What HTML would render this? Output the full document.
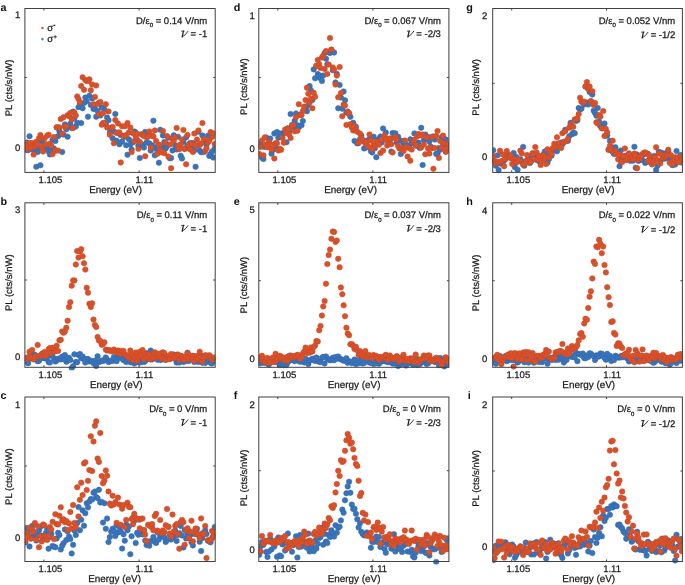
<!DOCTYPE html>
<html><head><meta charset="utf-8"><style>
html,body{margin:0;padding:0;background:#fff;width:685px;height:585px;overflow:hidden}
svg{display:block;text-rendering:geometricPrecision} text{filter:grayscale(1)}
.t{font-family:"Liberation Sans",sans-serif;font-size:9.5px;fill:#1a1a1a;stroke:#1a1a1a;stroke-width:0.25px}
.an{font-family:"Liberation Sans",sans-serif;font-size:9.5px;fill:#1a1a1a;stroke:#1a1a1a;stroke-width:0.25px}
.nu{font-family:"Liberation Serif",serif;font-style:italic;font-size:11px}
.lt{font-family:"Liberation Sans",sans-serif;font-size:10.8px;font-weight:bold;fill:#111}
</style></head><body>
<svg width="685" height="585" viewBox="0 0 685 585"><rect width="685" height="585" fill="#fff"/><clipPath id="cpa"><rect x="24.9" y="5.5" width="190.29999999999998" height="169.9"/></clipPath><g clip-path="url(#cpa)"><g fill="#3874bc" stroke="#3468a8" stroke-width="0.5"><circle cx="25.4" cy="149.8" r="2.75"/><circle cx="26.8" cy="142.5" r="2.75"/><circle cx="28.1" cy="150.2" r="2.75"/><circle cx="29.5" cy="136.2" r="2.75"/><circle cx="30.8" cy="144.8" r="2.75"/><circle cx="32.2" cy="148.9" r="2.75"/><circle cx="33.6" cy="149.9" r="2.75"/><circle cx="34.9" cy="148.6" r="2.75"/><circle cx="36.3" cy="166.8" r="2.75"/><circle cx="37.7" cy="152.1" r="2.75"/><circle cx="39.0" cy="148.3" r="2.75"/><circle cx="40.4" cy="165.3" r="2.75"/><circle cx="41.7" cy="141.2" r="2.75"/><circle cx="43.1" cy="147.3" r="2.75"/><circle cx="44.5" cy="143.9" r="2.75"/><circle cx="45.8" cy="146.4" r="2.75"/><circle cx="47.2" cy="148.7" r="2.75"/><circle cx="48.6" cy="151.3" r="2.75"/><circle cx="49.9" cy="154.4" r="2.75"/><circle cx="51.3" cy="150.4" r="2.75"/><circle cx="52.6" cy="139.7" r="2.75"/><circle cx="54.0" cy="148.5" r="2.75"/><circle cx="55.4" cy="141.0" r="2.75"/><circle cx="56.7" cy="127.5" r="2.75"/><circle cx="58.1" cy="136.2" r="2.75"/><circle cx="59.4" cy="131.2" r="2.75"/><circle cx="60.8" cy="134.0" r="2.75"/><circle cx="62.2" cy="151.9" r="2.75"/><circle cx="63.5" cy="134.6" r="2.75"/><circle cx="64.9" cy="124.4" r="2.75"/><circle cx="66.3" cy="129.2" r="2.75"/><circle cx="67.6" cy="136.7" r="2.75"/><circle cx="69.0" cy="115.9" r="2.75"/><circle cx="70.3" cy="123.7" r="2.75"/><circle cx="71.7" cy="128.0" r="2.75"/><circle cx="73.1" cy="111.6" r="2.75"/><circle cx="74.4" cy="118.0" r="2.75"/><circle cx="75.8" cy="126.6" r="2.75"/><circle cx="77.2" cy="122.8" r="2.75"/><circle cx="78.5" cy="107.2" r="2.75"/><circle cx="79.9" cy="104.1" r="2.75"/><circle cx="81.2" cy="123.1" r="2.75"/><circle cx="82.6" cy="108.2" r="2.75"/><circle cx="84.0" cy="102.9" r="2.75"/><circle cx="85.3" cy="97.6" r="2.75"/><circle cx="86.7" cy="101.3" r="2.75"/><circle cx="88.0" cy="116.7" r="2.75"/><circle cx="89.4" cy="95.8" r="2.75"/><circle cx="90.8" cy="104.9" r="2.75"/><circle cx="92.1" cy="98.5" r="2.75"/><circle cx="93.5" cy="109.0" r="2.75"/><circle cx="94.9" cy="108.5" r="2.75"/><circle cx="96.2" cy="116.8" r="2.75"/><circle cx="97.6" cy="111.0" r="2.75"/><circle cx="98.9" cy="103.0" r="2.75"/><circle cx="100.3" cy="115.5" r="2.75"/><circle cx="101.7" cy="107.3" r="2.75"/><circle cx="103.0" cy="123.2" r="2.75"/><circle cx="104.4" cy="109.6" r="2.75"/><circle cx="105.8" cy="124.2" r="2.75"/><circle cx="107.1" cy="117.5" r="2.75"/><circle cx="108.5" cy="120.2" r="2.75"/><circle cx="109.8" cy="132.4" r="2.75"/><circle cx="111.2" cy="131.1" r="2.75"/><circle cx="112.6" cy="138.3" r="2.75"/><circle cx="113.9" cy="131.4" r="2.75"/><circle cx="115.3" cy="114.0" r="2.75"/><circle cx="116.6" cy="140.7" r="2.75"/><circle cx="118.0" cy="132.6" r="2.75"/><circle cx="119.4" cy="144.3" r="2.75"/><circle cx="120.7" cy="135.1" r="2.75"/><circle cx="122.1" cy="141.6" r="2.75"/><circle cx="123.5" cy="136.0" r="2.75"/><circle cx="124.8" cy="136.8" r="2.75"/><circle cx="126.2" cy="145.3" r="2.75"/><circle cx="127.5" cy="154.7" r="2.75"/><circle cx="128.9" cy="139.3" r="2.75"/><circle cx="130.3" cy="144.4" r="2.75"/><circle cx="131.6" cy="149.4" r="2.75"/><circle cx="133.0" cy="142.3" r="2.75"/><circle cx="134.3" cy="131.4" r="2.75"/><circle cx="135.7" cy="132.5" r="2.75"/><circle cx="137.1" cy="139.9" r="2.75"/><circle cx="138.4" cy="145.4" r="2.75"/><circle cx="139.8" cy="158.0" r="2.75"/><circle cx="141.2" cy="145.0" r="2.75"/><circle cx="142.5" cy="144.6" r="2.75"/><circle cx="143.9" cy="147.5" r="2.75"/><circle cx="145.2" cy="131.9" r="2.75"/><circle cx="146.6" cy="142.6" r="2.75"/><circle cx="148.0" cy="133.9" r="2.75"/><circle cx="149.3" cy="143.3" r="2.75"/><circle cx="150.7" cy="150.6" r="2.75"/><circle cx="152.1" cy="145.3" r="2.75"/><circle cx="153.4" cy="120.7" r="2.75"/><circle cx="154.8" cy="155.3" r="2.75"/><circle cx="156.1" cy="149.1" r="2.75"/><circle cx="157.5" cy="146.6" r="2.75"/><circle cx="158.9" cy="162.7" r="2.75"/><circle cx="160.2" cy="129.8" r="2.75"/><circle cx="161.6" cy="146.7" r="2.75"/><circle cx="162.9" cy="135.4" r="2.75"/><circle cx="164.3" cy="142.1" r="2.75"/><circle cx="165.7" cy="148.4" r="2.75"/><circle cx="167.0" cy="145.9" r="2.75"/><circle cx="168.4" cy="137.7" r="2.75"/><circle cx="169.8" cy="158.3" r="2.75"/><circle cx="171.1" cy="158.0" r="2.75"/><circle cx="172.5" cy="150.5" r="2.75"/><circle cx="173.8" cy="135.3" r="2.75"/><circle cx="175.2" cy="145.4" r="2.75"/><circle cx="176.6" cy="149.4" r="2.75"/><circle cx="177.9" cy="136.8" r="2.75"/><circle cx="179.3" cy="145.2" r="2.75"/><circle cx="180.7" cy="155.7" r="2.75"/><circle cx="182.0" cy="158.5" r="2.75"/><circle cx="183.4" cy="142.0" r="2.75"/><circle cx="184.7" cy="148.8" r="2.75"/><circle cx="186.1" cy="137.4" r="2.75"/><circle cx="187.5" cy="145.6" r="2.75"/><circle cx="188.8" cy="148.3" r="2.75"/><circle cx="190.2" cy="143.0" r="2.75"/><circle cx="191.5" cy="146.7" r="2.75"/><circle cx="192.9" cy="143.0" r="2.75"/><circle cx="194.3" cy="150.3" r="2.75"/><circle cx="195.6" cy="166.8" r="2.75"/><circle cx="197.0" cy="145.4" r="2.75"/><circle cx="198.4" cy="131.7" r="2.75"/><circle cx="199.7" cy="150.4" r="2.75"/><circle cx="201.1" cy="152.2" r="2.75"/><circle cx="202.4" cy="135.4" r="2.75"/><circle cx="203.8" cy="152.1" r="2.75"/><circle cx="205.2" cy="142.3" r="2.75"/><circle cx="206.5" cy="144.5" r="2.75"/><circle cx="207.9" cy="135.8" r="2.75"/><circle cx="209.3" cy="155.9" r="2.75"/><circle cx="210.6" cy="154.0" r="2.75"/><circle cx="212.0" cy="151.6" r="2.75"/><circle cx="213.3" cy="157.6" r="2.75"/><circle cx="214.7" cy="148.5" r="2.75"/></g><g fill="#dc5027" stroke="#c44a2a" stroke-width="0.5"><circle cx="25.4" cy="149.3" r="2.75"/><circle cx="26.8" cy="144.0" r="2.75"/><circle cx="28.1" cy="148.5" r="2.75"/><circle cx="29.5" cy="142.9" r="2.75"/><circle cx="30.8" cy="147.7" r="2.75"/><circle cx="32.2" cy="143.0" r="2.75"/><circle cx="33.6" cy="154.5" r="2.75"/><circle cx="34.9" cy="146.5" r="2.75"/><circle cx="36.3" cy="141.8" r="2.75"/><circle cx="37.7" cy="144.8" r="2.75"/><circle cx="39.0" cy="138.2" r="2.75"/><circle cx="40.4" cy="135.0" r="2.75"/><circle cx="41.7" cy="147.1" r="2.75"/><circle cx="43.1" cy="151.5" r="2.75"/><circle cx="44.5" cy="138.3" r="2.75"/><circle cx="45.8" cy="144.2" r="2.75"/><circle cx="47.2" cy="135.8" r="2.75"/><circle cx="48.6" cy="134.7" r="2.75"/><circle cx="49.9" cy="143.7" r="2.75"/><circle cx="51.3" cy="145.6" r="2.75"/><circle cx="52.6" cy="154.1" r="2.75"/><circle cx="54.0" cy="137.0" r="2.75"/><circle cx="55.4" cy="150.7" r="2.75"/><circle cx="56.7" cy="127.2" r="2.75"/><circle cx="58.1" cy="150.6" r="2.75"/><circle cx="59.4" cy="127.3" r="2.75"/><circle cx="60.8" cy="119.1" r="2.75"/><circle cx="62.2" cy="133.8" r="2.75"/><circle cx="63.5" cy="117.3" r="2.75"/><circle cx="64.9" cy="127.0" r="2.75"/><circle cx="66.3" cy="126.3" r="2.75"/><circle cx="67.6" cy="115.2" r="2.75"/><circle cx="69.0" cy="115.7" r="2.75"/><circle cx="70.3" cy="112.9" r="2.75"/><circle cx="71.7" cy="119.5" r="2.75"/><circle cx="73.1" cy="128.1" r="2.75"/><circle cx="74.4" cy="112.5" r="2.75"/><circle cx="75.8" cy="115.6" r="2.75"/><circle cx="77.2" cy="96.4" r="2.75"/><circle cx="78.5" cy="99.0" r="2.75"/><circle cx="79.9" cy="102.2" r="2.75"/><circle cx="81.2" cy="86.1" r="2.75"/><circle cx="82.6" cy="77.3" r="2.75"/><circle cx="84.0" cy="89.8" r="2.75"/><circle cx="85.3" cy="80.1" r="2.75"/><circle cx="86.7" cy="80.9" r="2.75"/><circle cx="88.0" cy="80.9" r="2.75"/><circle cx="89.4" cy="79.3" r="2.75"/><circle cx="90.8" cy="90.3" r="2.75"/><circle cx="92.1" cy="84.5" r="2.75"/><circle cx="93.5" cy="104.2" r="2.75"/><circle cx="94.9" cy="96.9" r="2.75"/><circle cx="96.2" cy="85.5" r="2.75"/><circle cx="97.6" cy="104.1" r="2.75"/><circle cx="98.9" cy="114.2" r="2.75"/><circle cx="100.3" cy="101.9" r="2.75"/><circle cx="101.7" cy="124.7" r="2.75"/><circle cx="103.0" cy="113.3" r="2.75"/><circle cx="104.4" cy="122.7" r="2.75"/><circle cx="105.8" cy="104.2" r="2.75"/><circle cx="107.1" cy="127.5" r="2.75"/><circle cx="108.5" cy="111.4" r="2.75"/><circle cx="109.8" cy="134.7" r="2.75"/><circle cx="111.2" cy="127.5" r="2.75"/><circle cx="112.6" cy="127.0" r="2.75"/><circle cx="113.9" cy="143.2" r="2.75"/><circle cx="115.3" cy="120.0" r="2.75"/><circle cx="116.6" cy="133.1" r="2.75"/><circle cx="118.0" cy="123.4" r="2.75"/><circle cx="119.4" cy="132.5" r="2.75"/><circle cx="120.7" cy="162.4" r="2.75"/><circle cx="122.1" cy="126.3" r="2.75"/><circle cx="123.5" cy="136.2" r="2.75"/><circle cx="124.8" cy="126.3" r="2.75"/><circle cx="126.2" cy="135.0" r="2.75"/><circle cx="127.5" cy="123.0" r="2.75"/><circle cx="128.9" cy="132.4" r="2.75"/><circle cx="130.3" cy="127.5" r="2.75"/><circle cx="131.6" cy="152.1" r="2.75"/><circle cx="133.0" cy="133.2" r="2.75"/><circle cx="134.3" cy="141.0" r="2.75"/><circle cx="135.7" cy="136.8" r="2.75"/><circle cx="137.1" cy="133.7" r="2.75"/><circle cx="138.4" cy="148.8" r="2.75"/><circle cx="139.8" cy="141.9" r="2.75"/><circle cx="141.2" cy="134.3" r="2.75"/><circle cx="142.5" cy="134.7" r="2.75"/><circle cx="143.9" cy="136.1" r="2.75"/><circle cx="145.2" cy="156.2" r="2.75"/><circle cx="146.6" cy="137.3" r="2.75"/><circle cx="148.0" cy="136.8" r="2.75"/><circle cx="149.3" cy="131.4" r="2.75"/><circle cx="150.7" cy="147.7" r="2.75"/><circle cx="152.1" cy="135.8" r="2.75"/><circle cx="153.4" cy="136.4" r="2.75"/><circle cx="154.8" cy="130.4" r="2.75"/><circle cx="156.1" cy="141.1" r="2.75"/><circle cx="157.5" cy="153.8" r="2.75"/><circle cx="158.9" cy="144.6" r="2.75"/><circle cx="160.2" cy="149.9" r="2.75"/><circle cx="161.6" cy="152.2" r="2.75"/><circle cx="162.9" cy="131.0" r="2.75"/><circle cx="164.3" cy="153.2" r="2.75"/><circle cx="165.7" cy="142.8" r="2.75"/><circle cx="167.0" cy="136.1" r="2.75"/><circle cx="168.4" cy="156.6" r="2.75"/><circle cx="169.8" cy="144.5" r="2.75"/><circle cx="171.1" cy="168.2" r="2.75"/><circle cx="172.5" cy="139.0" r="2.75"/><circle cx="173.8" cy="141.1" r="2.75"/><circle cx="175.2" cy="137.0" r="2.75"/><circle cx="176.6" cy="128.0" r="2.75"/><circle cx="177.9" cy="146.4" r="2.75"/><circle cx="179.3" cy="149.2" r="2.75"/><circle cx="180.7" cy="144.5" r="2.75"/><circle cx="182.0" cy="139.4" r="2.75"/><circle cx="183.4" cy="129.9" r="2.75"/><circle cx="184.7" cy="149.0" r="2.75"/><circle cx="186.1" cy="164.3" r="2.75"/><circle cx="187.5" cy="134.9" r="2.75"/><circle cx="188.8" cy="144.7" r="2.75"/><circle cx="190.2" cy="149.6" r="2.75"/><circle cx="191.5" cy="143.5" r="2.75"/><circle cx="192.9" cy="152.0" r="2.75"/><circle cx="194.3" cy="133.6" r="2.75"/><circle cx="195.6" cy="145.3" r="2.75"/><circle cx="197.0" cy="139.6" r="2.75"/><circle cx="198.4" cy="130.4" r="2.75"/><circle cx="199.7" cy="145.0" r="2.75"/><circle cx="201.1" cy="143.4" r="2.75"/><circle cx="202.4" cy="123.1" r="2.75"/><circle cx="203.8" cy="139.0" r="2.75"/><circle cx="205.2" cy="151.0" r="2.75"/><circle cx="206.5" cy="148.3" r="2.75"/><circle cx="207.9" cy="142.3" r="2.75"/><circle cx="209.3" cy="140.5" r="2.75"/><circle cx="210.6" cy="132.0" r="2.75"/><circle cx="212.0" cy="137.0" r="2.75"/><circle cx="213.3" cy="133.4" r="2.75"/><circle cx="214.7" cy="144.1" r="2.75"/></g></g><rect x="24.9" y="8.5" width="190.29999999999998" height="163.9" fill="none" stroke="#404040" stroke-width="1"/><line x1="43.9" y1="172.4" x2="43.9" y2="170.4" stroke="#404040" stroke-width="1"/><line x1="43.9" y1="8.5" x2="43.9" y2="10.5" stroke="#404040" stroke-width="1"/><line x1="139.1" y1="172.4" x2="139.1" y2="170.4" stroke="#404040" stroke-width="1"/><line x1="139.1" y1="8.5" x2="139.1" y2="10.5" stroke="#404040" stroke-width="1"/><line x1="24.9" y1="77.4" x2="26.9" y2="77.4" stroke="#404040" stroke-width="1"/><line x1="215.2" y1="77.4" x2="213.2" y2="77.4" stroke="#404040" stroke-width="1"/><text x="50.5" y="183.1" text-anchor="middle" class="t">1.105</text><text x="144.3" y="183.1" text-anchor="middle" class="t">1.11</text><text x="115.6" y="193.1" text-anchor="middle" class="t" style="font-size:9.9px">Energy (eV)</text><text x="20.2" y="17.7" text-anchor="end" class="t">1</text><text x="20.2" y="151.4" text-anchor="end" class="t">0</text><text transform="translate(12.4,87.9) rotate(-90)" text-anchor="middle" class="t">PL (cts/s/nW)</text><text x="0.4" y="10.5" class="lt">a</text><text x="207.2" y="23.8" text-anchor="end" class="an">D/ε<tspan font-size="6" dy="3.4">0</tspan><tspan dy="-3.4"> = 0.14 V/nm</tspan></text><text x="207.2" y="37.3" text-anchor="end" class="an">= -1</text><g transform="translate(188.8,37.3)" fill="none" stroke="#262626" stroke-linecap="round"><path d="M-7.3 -6.2 L-4.6 -6.2" stroke-width="0.8"/><path d="M-5.4 -6.1 L-6.6 -0.5" stroke-width="1.3"/><path d="M-6.5 -0.4 Q-3.5 -1.8 -0.8 -6.0" stroke-width="0.9"/></g><circle cx="42.4" cy="28" r="1.3" fill="#c0604a"/><circle cx="42.4" cy="39.1" r="1.3" fill="#5a84b0"/><text x="47.3" y="30.9" class="an">σ<tspan font-size="6.5" dy="-3.5" style="stroke-width:0.35px">-</tspan></text><text x="47.3" y="42" class="an">σ<tspan font-size="6.5" dy="-3.5" style="stroke-width:0.2px">+</tspan></text><clipPath id="cpb"><rect x="24.9" y="199.8" width="190.29999999999998" height="170.5"/></clipPath><g clip-path="url(#cpb)"><g fill="#3874bc" stroke="#3468a8" stroke-width="0.5"><circle cx="25.4" cy="358.1" r="2.75"/><circle cx="26.8" cy="362.0" r="2.75"/><circle cx="28.1" cy="363.2" r="2.75"/><circle cx="29.5" cy="357.0" r="2.75"/><circle cx="30.8" cy="358.4" r="2.75"/><circle cx="32.2" cy="354.5" r="2.75"/><circle cx="33.6" cy="357.9" r="2.75"/><circle cx="34.9" cy="354.8" r="2.75"/><circle cx="36.3" cy="357.7" r="2.75"/><circle cx="37.7" cy="361.2" r="2.75"/><circle cx="39.0" cy="360.8" r="2.75"/><circle cx="40.4" cy="358.8" r="2.75"/><circle cx="41.7" cy="354.0" r="2.75"/><circle cx="43.1" cy="357.3" r="2.75"/><circle cx="44.5" cy="358.2" r="2.75"/><circle cx="45.8" cy="358.5" r="2.75"/><circle cx="47.2" cy="356.9" r="2.75"/><circle cx="48.6" cy="362.1" r="2.75"/><circle cx="49.9" cy="362.5" r="2.75"/><circle cx="51.3" cy="355.8" r="2.75"/><circle cx="52.6" cy="353.3" r="2.75"/><circle cx="54.0" cy="358.2" r="2.75"/><circle cx="55.4" cy="361.6" r="2.75"/><circle cx="56.7" cy="360.4" r="2.75"/><circle cx="58.1" cy="358.8" r="2.75"/><circle cx="59.4" cy="358.4" r="2.75"/><circle cx="60.8" cy="359.4" r="2.75"/><circle cx="62.2" cy="356.6" r="2.75"/><circle cx="63.5" cy="358.8" r="2.75"/><circle cx="64.9" cy="355.0" r="2.75"/><circle cx="66.3" cy="361.8" r="2.75"/><circle cx="67.6" cy="360.5" r="2.75"/><circle cx="69.0" cy="357.8" r="2.75"/><circle cx="70.3" cy="360.0" r="2.75"/><circle cx="71.7" cy="367.9" r="2.75"/><circle cx="73.1" cy="366.2" r="2.75"/><circle cx="74.4" cy="354.3" r="2.75"/><circle cx="75.8" cy="361.9" r="2.75"/><circle cx="77.2" cy="362.2" r="2.75"/><circle cx="78.5" cy="355.1" r="2.75"/><circle cx="79.9" cy="353.9" r="2.75"/><circle cx="81.2" cy="358.2" r="2.75"/><circle cx="82.6" cy="356.5" r="2.75"/><circle cx="84.0" cy="359.2" r="2.75"/><circle cx="85.3" cy="362.6" r="2.75"/><circle cx="86.7" cy="359.1" r="2.75"/><circle cx="88.0" cy="359.0" r="2.75"/><circle cx="89.4" cy="361.4" r="2.75"/><circle cx="90.8" cy="360.9" r="2.75"/><circle cx="92.1" cy="361.3" r="2.75"/><circle cx="93.5" cy="363.2" r="2.75"/><circle cx="94.9" cy="360.7" r="2.75"/><circle cx="96.2" cy="366.0" r="2.75"/><circle cx="97.6" cy="356.2" r="2.75"/><circle cx="98.9" cy="362.0" r="2.75"/><circle cx="100.3" cy="361.5" r="2.75"/><circle cx="101.7" cy="360.6" r="2.75"/><circle cx="103.0" cy="361.1" r="2.75"/><circle cx="104.4" cy="360.0" r="2.75"/><circle cx="105.8" cy="357.4" r="2.75"/><circle cx="107.1" cy="359.9" r="2.75"/><circle cx="108.5" cy="362.0" r="2.75"/><circle cx="109.8" cy="361.4" r="2.75"/><circle cx="111.2" cy="360.5" r="2.75"/><circle cx="112.6" cy="361.0" r="2.75"/><circle cx="113.9" cy="357.0" r="2.75"/><circle cx="115.3" cy="359.5" r="2.75"/><circle cx="116.6" cy="361.2" r="2.75"/><circle cx="118.0" cy="354.6" r="2.75"/><circle cx="119.4" cy="356.6" r="2.75"/><circle cx="120.7" cy="358.0" r="2.75"/><circle cx="122.1" cy="358.1" r="2.75"/><circle cx="123.5" cy="360.2" r="2.75"/><circle cx="124.8" cy="355.3" r="2.75"/><circle cx="126.2" cy="362.1" r="2.75"/><circle cx="127.5" cy="358.7" r="2.75"/><circle cx="128.9" cy="359.9" r="2.75"/><circle cx="130.3" cy="362.2" r="2.75"/><circle cx="131.6" cy="361.9" r="2.75"/><circle cx="133.0" cy="360.3" r="2.75"/><circle cx="134.3" cy="363.4" r="2.75"/><circle cx="135.7" cy="361.3" r="2.75"/><circle cx="137.1" cy="360.7" r="2.75"/><circle cx="138.4" cy="362.2" r="2.75"/><circle cx="139.8" cy="362.5" r="2.75"/><circle cx="141.2" cy="361.9" r="2.75"/><circle cx="142.5" cy="358.5" r="2.75"/><circle cx="143.9" cy="362.1" r="2.75"/><circle cx="145.2" cy="361.1" r="2.75"/><circle cx="146.6" cy="353.1" r="2.75"/><circle cx="148.0" cy="358.9" r="2.75"/><circle cx="149.3" cy="354.1" r="2.75"/><circle cx="150.7" cy="350.6" r="2.75"/><circle cx="152.1" cy="359.4" r="2.75"/><circle cx="153.4" cy="357.9" r="2.75"/><circle cx="154.8" cy="355.4" r="2.75"/><circle cx="156.1" cy="358.0" r="2.75"/><circle cx="157.5" cy="359.7" r="2.75"/><circle cx="158.9" cy="357.9" r="2.75"/><circle cx="160.2" cy="360.1" r="2.75"/><circle cx="161.6" cy="359.5" r="2.75"/><circle cx="162.9" cy="359.1" r="2.75"/><circle cx="164.3" cy="356.4" r="2.75"/><circle cx="165.7" cy="359.9" r="2.75"/><circle cx="167.0" cy="357.7" r="2.75"/><circle cx="168.4" cy="358.9" r="2.75"/><circle cx="169.8" cy="356.0" r="2.75"/><circle cx="171.1" cy="357.0" r="2.75"/><circle cx="172.5" cy="357.7" r="2.75"/><circle cx="173.8" cy="354.5" r="2.75"/><circle cx="175.2" cy="358.9" r="2.75"/><circle cx="176.6" cy="362.6" r="2.75"/><circle cx="177.9" cy="361.8" r="2.75"/><circle cx="179.3" cy="362.5" r="2.75"/><circle cx="180.7" cy="355.8" r="2.75"/><circle cx="182.0" cy="359.1" r="2.75"/><circle cx="183.4" cy="362.0" r="2.75"/><circle cx="184.7" cy="358.4" r="2.75"/><circle cx="186.1" cy="361.1" r="2.75"/><circle cx="187.5" cy="352.7" r="2.75"/><circle cx="188.8" cy="361.0" r="2.75"/><circle cx="190.2" cy="358.6" r="2.75"/><circle cx="191.5" cy="357.6" r="2.75"/><circle cx="192.9" cy="355.8" r="2.75"/><circle cx="194.3" cy="362.1" r="2.75"/><circle cx="195.6" cy="356.5" r="2.75"/><circle cx="197.0" cy="357.0" r="2.75"/><circle cx="198.4" cy="362.1" r="2.75"/><circle cx="199.7" cy="361.0" r="2.75"/><circle cx="201.1" cy="355.8" r="2.75"/><circle cx="202.4" cy="362.8" r="2.75"/><circle cx="203.8" cy="357.1" r="2.75"/><circle cx="205.2" cy="362.9" r="2.75"/><circle cx="206.5" cy="359.8" r="2.75"/><circle cx="207.9" cy="360.6" r="2.75"/><circle cx="209.3" cy="360.5" r="2.75"/><circle cx="210.6" cy="362.8" r="2.75"/><circle cx="212.0" cy="363.4" r="2.75"/><circle cx="213.3" cy="359.1" r="2.75"/><circle cx="214.7" cy="360.9" r="2.75"/></g><g fill="#dc5027" stroke="#c44a2a" stroke-width="0.5"><circle cx="25.4" cy="358.8" r="2.75"/><circle cx="26.8" cy="358.9" r="2.75"/><circle cx="28.1" cy="357.2" r="2.75"/><circle cx="29.5" cy="351.7" r="2.75"/><circle cx="30.8" cy="357.6" r="2.75"/><circle cx="32.2" cy="349.9" r="2.75"/><circle cx="33.6" cy="359.5" r="2.75"/><circle cx="34.9" cy="357.1" r="2.75"/><circle cx="36.3" cy="356.2" r="2.75"/><circle cx="37.7" cy="344.9" r="2.75"/><circle cx="39.0" cy="356.0" r="2.75"/><circle cx="40.4" cy="356.1" r="2.75"/><circle cx="41.7" cy="355.3" r="2.75"/><circle cx="43.1" cy="353.1" r="2.75"/><circle cx="44.5" cy="352.0" r="2.75"/><circle cx="45.8" cy="355.7" r="2.75"/><circle cx="47.2" cy="353.6" r="2.75"/><circle cx="48.6" cy="349.3" r="2.75"/><circle cx="49.9" cy="347.9" r="2.75"/><circle cx="51.3" cy="353.0" r="2.75"/><circle cx="52.6" cy="347.7" r="2.75"/><circle cx="54.0" cy="349.4" r="2.75"/><circle cx="55.4" cy="351.2" r="2.75"/><circle cx="56.7" cy="345.7" r="2.75"/><circle cx="58.1" cy="351.0" r="2.75"/><circle cx="59.4" cy="340.3" r="2.75"/><circle cx="60.8" cy="339.8" r="2.75"/><circle cx="62.2" cy="331.4" r="2.75"/><circle cx="63.5" cy="332.7" r="2.75"/><circle cx="64.9" cy="331.6" r="2.75"/><circle cx="66.3" cy="327.8" r="2.75"/><circle cx="67.6" cy="320.8" r="2.75"/><circle cx="69.0" cy="307.1" r="2.75"/><circle cx="70.3" cy="302.2" r="2.75"/><circle cx="71.7" cy="285.7" r="2.75"/><circle cx="73.1" cy="280.4" r="2.75"/><circle cx="74.4" cy="280.5" r="2.75"/><circle cx="75.8" cy="264.5" r="2.75"/><circle cx="77.2" cy="251.0" r="2.75"/><circle cx="78.5" cy="257.6" r="2.75"/><circle cx="79.9" cy="251.4" r="2.75"/><circle cx="81.2" cy="249.2" r="2.75"/><circle cx="82.6" cy="256.2" r="2.75"/><circle cx="84.0" cy="263.2" r="2.75"/><circle cx="85.3" cy="269.6" r="2.75"/><circle cx="86.7" cy="287.8" r="2.75"/><circle cx="88.0" cy="292.7" r="2.75"/><circle cx="89.4" cy="303.8" r="2.75"/><circle cx="90.8" cy="307.0" r="2.75"/><circle cx="92.1" cy="303.3" r="2.75"/><circle cx="93.5" cy="319.6" r="2.75"/><circle cx="94.9" cy="325.0" r="2.75"/><circle cx="96.2" cy="327.1" r="2.75"/><circle cx="97.6" cy="336.9" r="2.75"/><circle cx="98.9" cy="340.4" r="2.75"/><circle cx="100.3" cy="341.0" r="2.75"/><circle cx="101.7" cy="344.8" r="2.75"/><circle cx="103.0" cy="343.9" r="2.75"/><circle cx="104.4" cy="342.3" r="2.75"/><circle cx="105.8" cy="349.6" r="2.75"/><circle cx="107.1" cy="350.5" r="2.75"/><circle cx="108.5" cy="350.1" r="2.75"/><circle cx="109.8" cy="350.3" r="2.75"/><circle cx="111.2" cy="351.3" r="2.75"/><circle cx="112.6" cy="351.1" r="2.75"/><circle cx="113.9" cy="349.6" r="2.75"/><circle cx="115.3" cy="350.9" r="2.75"/><circle cx="116.6" cy="352.5" r="2.75"/><circle cx="118.0" cy="350.4" r="2.75"/><circle cx="119.4" cy="351.6" r="2.75"/><circle cx="120.7" cy="353.8" r="2.75"/><circle cx="122.1" cy="350.9" r="2.75"/><circle cx="123.5" cy="351.0" r="2.75"/><circle cx="124.8" cy="354.3" r="2.75"/><circle cx="126.2" cy="355.2" r="2.75"/><circle cx="127.5" cy="355.7" r="2.75"/><circle cx="128.9" cy="357.7" r="2.75"/><circle cx="130.3" cy="350.6" r="2.75"/><circle cx="131.6" cy="354.4" r="2.75"/><circle cx="133.0" cy="360.0" r="2.75"/><circle cx="134.3" cy="357.6" r="2.75"/><circle cx="135.7" cy="352.4" r="2.75"/><circle cx="137.1" cy="360.7" r="2.75"/><circle cx="138.4" cy="356.6" r="2.75"/><circle cx="139.8" cy="351.8" r="2.75"/><circle cx="141.2" cy="355.4" r="2.75"/><circle cx="142.5" cy="350.0" r="2.75"/><circle cx="143.9" cy="359.2" r="2.75"/><circle cx="145.2" cy="354.3" r="2.75"/><circle cx="146.6" cy="356.8" r="2.75"/><circle cx="148.0" cy="353.8" r="2.75"/><circle cx="149.3" cy="354.8" r="2.75"/><circle cx="150.7" cy="359.5" r="2.75"/><circle cx="152.1" cy="358.2" r="2.75"/><circle cx="153.4" cy="357.5" r="2.75"/><circle cx="154.8" cy="352.3" r="2.75"/><circle cx="156.1" cy="357.3" r="2.75"/><circle cx="157.5" cy="353.9" r="2.75"/><circle cx="158.9" cy="356.5" r="2.75"/><circle cx="160.2" cy="353.5" r="2.75"/><circle cx="161.6" cy="358.5" r="2.75"/><circle cx="162.9" cy="352.3" r="2.75"/><circle cx="164.3" cy="353.2" r="2.75"/><circle cx="165.7" cy="359.8" r="2.75"/><circle cx="167.0" cy="356.9" r="2.75"/><circle cx="168.4" cy="356.0" r="2.75"/><circle cx="169.8" cy="359.3" r="2.75"/><circle cx="171.1" cy="354.0" r="2.75"/><circle cx="172.5" cy="358.1" r="2.75"/><circle cx="173.8" cy="356.5" r="2.75"/><circle cx="175.2" cy="357.4" r="2.75"/><circle cx="176.6" cy="354.9" r="2.75"/><circle cx="177.9" cy="354.5" r="2.75"/><circle cx="179.3" cy="359.7" r="2.75"/><circle cx="180.7" cy="358.0" r="2.75"/><circle cx="182.0" cy="356.3" r="2.75"/><circle cx="183.4" cy="359.2" r="2.75"/><circle cx="184.7" cy="359.4" r="2.75"/><circle cx="186.1" cy="356.4" r="2.75"/><circle cx="187.5" cy="353.1" r="2.75"/><circle cx="188.8" cy="359.3" r="2.75"/><circle cx="190.2" cy="355.8" r="2.75"/><circle cx="191.5" cy="357.8" r="2.75"/><circle cx="192.9" cy="355.9" r="2.75"/><circle cx="194.3" cy="360.8" r="2.75"/><circle cx="195.6" cy="358.4" r="2.75"/><circle cx="197.0" cy="356.1" r="2.75"/><circle cx="198.4" cy="358.8" r="2.75"/><circle cx="199.7" cy="351.8" r="2.75"/><circle cx="201.1" cy="357.2" r="2.75"/><circle cx="202.4" cy="361.8" r="2.75"/><circle cx="203.8" cy="357.3" r="2.75"/><circle cx="205.2" cy="355.3" r="2.75"/><circle cx="206.5" cy="355.5" r="2.75"/><circle cx="207.9" cy="356.2" r="2.75"/><circle cx="209.3" cy="355.2" r="2.75"/><circle cx="210.6" cy="356.7" r="2.75"/><circle cx="212.0" cy="359.4" r="2.75"/><circle cx="213.3" cy="359.3" r="2.75"/><circle cx="214.7" cy="357.4" r="2.75"/></g></g><rect x="24.9" y="202.8" width="190.29999999999998" height="164.5" fill="none" stroke="#404040" stroke-width="1"/><line x1="43.9" y1="367.3" x2="43.9" y2="365.3" stroke="#404040" stroke-width="1"/><line x1="43.9" y1="202.8" x2="43.9" y2="204.8" stroke="#404040" stroke-width="1"/><line x1="139.1" y1="367.3" x2="139.1" y2="365.3" stroke="#404040" stroke-width="1"/><line x1="139.1" y1="202.8" x2="139.1" y2="204.8" stroke="#404040" stroke-width="1"/><line x1="24.9" y1="280" x2="26.9" y2="280" stroke="#404040" stroke-width="1"/><line x1="215.2" y1="280" x2="213.2" y2="280" stroke="#404040" stroke-width="1"/><text x="50.5" y="378.0" text-anchor="middle" class="t">1.105</text><text x="144.3" y="378.0" text-anchor="middle" class="t">1.11</text><text x="116.3" y="388.0" text-anchor="middle" class="t" style="font-size:9.9px">Energy (eV)</text><text x="20.2" y="213.4" text-anchor="end" class="t">3</text><text x="20.2" y="359.7" text-anchor="end" class="t">0</text><text transform="translate(12.4,282.7) rotate(-90)" text-anchor="middle" class="t">PL (cts/s/nW)</text><text x="0.4" y="204.8" class="lt">b</text><text x="207.2" y="218.1" text-anchor="end" class="an">D/ε<tspan font-size="6" dy="3.4">0</tspan><tspan dy="-3.4"> = 0.11 V/nm</tspan></text><text x="207.2" y="231.6" text-anchor="end" class="an">= -1</text><g transform="translate(188.8,231.6)" fill="none" stroke="#262626" stroke-linecap="round"><path d="M-7.3 -6.2 L-4.6 -6.2" stroke-width="0.8"/><path d="M-5.4 -6.1 L-6.6 -0.5" stroke-width="1.3"/><path d="M-6.5 -0.4 Q-3.5 -1.8 -0.8 -6.0" stroke-width="0.9"/></g><clipPath id="cpc"><rect x="24.9" y="394.0" width="190.29999999999998" height="170.5"/></clipPath><g clip-path="url(#cpc)"><g fill="#3874bc" stroke="#3468a8" stroke-width="0.5"><circle cx="25.4" cy="542.4" r="2.75"/><circle cx="26.8" cy="528.0" r="2.75"/><circle cx="28.1" cy="531.9" r="2.75"/><circle cx="29.5" cy="546.5" r="2.75"/><circle cx="30.8" cy="536.7" r="2.75"/><circle cx="32.2" cy="525.9" r="2.75"/><circle cx="33.6" cy="535.7" r="2.75"/><circle cx="34.9" cy="534.0" r="2.75"/><circle cx="36.3" cy="540.6" r="2.75"/><circle cx="37.7" cy="535.0" r="2.75"/><circle cx="39.0" cy="530.6" r="2.75"/><circle cx="40.4" cy="526.8" r="2.75"/><circle cx="41.7" cy="535.8" r="2.75"/><circle cx="43.1" cy="539.4" r="2.75"/><circle cx="44.5" cy="535.8" r="2.75"/><circle cx="45.8" cy="533.2" r="2.75"/><circle cx="47.2" cy="529.8" r="2.75"/><circle cx="48.6" cy="548.7" r="2.75"/><circle cx="49.9" cy="537.3" r="2.75"/><circle cx="51.3" cy="533.9" r="2.75"/><circle cx="52.6" cy="545.9" r="2.75"/><circle cx="54.0" cy="546.8" r="2.75"/><circle cx="55.4" cy="547.2" r="2.75"/><circle cx="56.7" cy="538.4" r="2.75"/><circle cx="58.1" cy="532.7" r="2.75"/><circle cx="59.4" cy="535.1" r="2.75"/><circle cx="60.8" cy="549.5" r="2.75"/><circle cx="62.2" cy="545.7" r="2.75"/><circle cx="63.5" cy="543.2" r="2.75"/><circle cx="64.9" cy="529.4" r="2.75"/><circle cx="66.3" cy="540.1" r="2.75"/><circle cx="67.6" cy="531.3" r="2.75"/><circle cx="69.0" cy="536.5" r="2.75"/><circle cx="70.3" cy="539.0" r="2.75"/><circle cx="71.7" cy="553.4" r="2.75"/><circle cx="73.1" cy="544.8" r="2.75"/><circle cx="74.4" cy="530.4" r="2.75"/><circle cx="75.8" cy="535.0" r="2.75"/><circle cx="77.2" cy="523.0" r="2.75"/><circle cx="78.5" cy="507.0" r="2.75"/><circle cx="79.9" cy="530.2" r="2.75"/><circle cx="81.2" cy="519.8" r="2.75"/><circle cx="82.6" cy="510.3" r="2.75"/><circle cx="84.0" cy="525.7" r="2.75"/><circle cx="85.3" cy="513.3" r="2.75"/><circle cx="86.7" cy="503.2" r="2.75"/><circle cx="88.0" cy="507.4" r="2.75"/><circle cx="89.4" cy="501.6" r="2.75"/><circle cx="90.8" cy="499.1" r="2.75"/><circle cx="92.1" cy="499.6" r="2.75"/><circle cx="93.5" cy="492.8" r="2.75"/><circle cx="94.9" cy="491.5" r="2.75"/><circle cx="96.2" cy="497.1" r="2.75"/><circle cx="97.6" cy="498.2" r="2.75"/><circle cx="98.9" cy="489.7" r="2.75"/><circle cx="100.3" cy="502.5" r="2.75"/><circle cx="101.7" cy="501.9" r="2.75"/><circle cx="103.0" cy="522.5" r="2.75"/><circle cx="104.4" cy="503.2" r="2.75"/><circle cx="105.8" cy="528.8" r="2.75"/><circle cx="107.1" cy="518.6" r="2.75"/><circle cx="108.5" cy="542.1" r="2.75"/><circle cx="109.8" cy="537.1" r="2.75"/><circle cx="111.2" cy="531.8" r="2.75"/><circle cx="112.6" cy="528.7" r="2.75"/><circle cx="113.9" cy="530.7" r="2.75"/><circle cx="115.3" cy="536.1" r="2.75"/><circle cx="116.6" cy="525.3" r="2.75"/><circle cx="118.0" cy="532.6" r="2.75"/><circle cx="119.4" cy="527.1" r="2.75"/><circle cx="120.7" cy="531.3" r="2.75"/><circle cx="122.1" cy="548.5" r="2.75"/><circle cx="123.5" cy="534.3" r="2.75"/><circle cx="124.8" cy="540.7" r="2.75"/><circle cx="126.2" cy="524.6" r="2.75"/><circle cx="127.5" cy="530.2" r="2.75"/><circle cx="128.9" cy="526.4" r="2.75"/><circle cx="130.3" cy="554.2" r="2.75"/><circle cx="131.6" cy="536.2" r="2.75"/><circle cx="133.0" cy="517.6" r="2.75"/><circle cx="134.3" cy="520.8" r="2.75"/><circle cx="135.7" cy="542.9" r="2.75"/><circle cx="137.1" cy="532.7" r="2.75"/><circle cx="138.4" cy="534.8" r="2.75"/><circle cx="139.8" cy="519.4" r="2.75"/><circle cx="141.2" cy="531.8" r="2.75"/><circle cx="142.5" cy="534.4" r="2.75"/><circle cx="143.9" cy="530.2" r="2.75"/><circle cx="145.2" cy="540.6" r="2.75"/><circle cx="146.6" cy="545.1" r="2.75"/><circle cx="148.0" cy="542.4" r="2.75"/><circle cx="149.3" cy="545.7" r="2.75"/><circle cx="150.7" cy="541.1" r="2.75"/><circle cx="152.1" cy="527.4" r="2.75"/><circle cx="153.4" cy="536.9" r="2.75"/><circle cx="154.8" cy="541.7" r="2.75"/><circle cx="156.1" cy="542.9" r="2.75"/><circle cx="157.5" cy="532.3" r="2.75"/><circle cx="158.9" cy="539.5" r="2.75"/><circle cx="160.2" cy="535.6" r="2.75"/><circle cx="161.6" cy="536.1" r="2.75"/><circle cx="162.9" cy="535.7" r="2.75"/><circle cx="164.3" cy="537.5" r="2.75"/><circle cx="165.7" cy="541.9" r="2.75"/><circle cx="167.0" cy="539.9" r="2.75"/><circle cx="168.4" cy="526.7" r="2.75"/><circle cx="169.8" cy="534.9" r="2.75"/><circle cx="171.1" cy="539.6" r="2.75"/><circle cx="172.5" cy="535.4" r="2.75"/><circle cx="173.8" cy="536.8" r="2.75"/><circle cx="175.2" cy="530.5" r="2.75"/><circle cx="176.6" cy="540.9" r="2.75"/><circle cx="177.9" cy="534.9" r="2.75"/><circle cx="179.3" cy="533.2" r="2.75"/><circle cx="180.7" cy="526.1" r="2.75"/><circle cx="182.0" cy="535.4" r="2.75"/><circle cx="183.4" cy="547.5" r="2.75"/><circle cx="184.7" cy="530.0" r="2.75"/><circle cx="186.1" cy="538.5" r="2.75"/><circle cx="187.5" cy="533.8" r="2.75"/><circle cx="188.8" cy="537.9" r="2.75"/><circle cx="190.2" cy="535.1" r="2.75"/><circle cx="191.5" cy="542.3" r="2.75"/><circle cx="192.9" cy="545.4" r="2.75"/><circle cx="194.3" cy="534.0" r="2.75"/><circle cx="195.6" cy="529.0" r="2.75"/><circle cx="197.0" cy="528.8" r="2.75"/><circle cx="198.4" cy="534.6" r="2.75"/><circle cx="199.7" cy="541.8" r="2.75"/><circle cx="201.1" cy="551.1" r="2.75"/><circle cx="202.4" cy="538.0" r="2.75"/><circle cx="203.8" cy="533.5" r="2.75"/><circle cx="205.2" cy="530.2" r="2.75"/><circle cx="206.5" cy="534.1" r="2.75"/><circle cx="207.9" cy="540.7" r="2.75"/><circle cx="209.3" cy="541.6" r="2.75"/><circle cx="210.6" cy="542.3" r="2.75"/><circle cx="212.0" cy="538.3" r="2.75"/><circle cx="213.3" cy="536.0" r="2.75"/><circle cx="214.7" cy="527.0" r="2.75"/></g><g fill="#dc5027" stroke="#c44a2a" stroke-width="0.5"><circle cx="25.4" cy="540.9" r="2.75"/><circle cx="26.8" cy="533.3" r="2.75"/><circle cx="28.1" cy="536.4" r="2.75"/><circle cx="29.5" cy="527.7" r="2.75"/><circle cx="30.8" cy="538.8" r="2.75"/><circle cx="32.2" cy="529.3" r="2.75"/><circle cx="33.6" cy="531.6" r="2.75"/><circle cx="34.9" cy="522.9" r="2.75"/><circle cx="36.3" cy="539.5" r="2.75"/><circle cx="37.7" cy="526.1" r="2.75"/><circle cx="39.0" cy="547.2" r="2.75"/><circle cx="40.4" cy="535.9" r="2.75"/><circle cx="41.7" cy="541.5" r="2.75"/><circle cx="43.1" cy="524.4" r="2.75"/><circle cx="44.5" cy="525.4" r="2.75"/><circle cx="45.8" cy="536.1" r="2.75"/><circle cx="47.2" cy="539.9" r="2.75"/><circle cx="48.6" cy="536.1" r="2.75"/><circle cx="49.9" cy="526.9" r="2.75"/><circle cx="51.3" cy="529.6" r="2.75"/><circle cx="52.6" cy="521.8" r="2.75"/><circle cx="54.0" cy="539.1" r="2.75"/><circle cx="55.4" cy="514.2" r="2.75"/><circle cx="56.7" cy="524.1" r="2.75"/><circle cx="58.1" cy="524.4" r="2.75"/><circle cx="59.4" cy="515.7" r="2.75"/><circle cx="60.8" cy="507.3" r="2.75"/><circle cx="62.2" cy="520.5" r="2.75"/><circle cx="63.5" cy="519.3" r="2.75"/><circle cx="64.9" cy="522.3" r="2.75"/><circle cx="66.3" cy="521.0" r="2.75"/><circle cx="67.6" cy="530.1" r="2.75"/><circle cx="69.0" cy="523.4" r="2.75"/><circle cx="70.3" cy="512.1" r="2.75"/><circle cx="71.7" cy="528.4" r="2.75"/><circle cx="73.1" cy="505.1" r="2.75"/><circle cx="74.4" cy="522.9" r="2.75"/><circle cx="75.8" cy="527.2" r="2.75"/><circle cx="77.2" cy="487.3" r="2.75"/><circle cx="78.5" cy="516.6" r="2.75"/><circle cx="79.9" cy="499.8" r="2.75"/><circle cx="81.2" cy="482.7" r="2.75"/><circle cx="82.6" cy="495.0" r="2.75"/><circle cx="84.0" cy="463.5" r="2.75"/><circle cx="85.3" cy="462.3" r="2.75"/><circle cx="86.7" cy="490.1" r="2.75"/><circle cx="88.0" cy="480.8" r="2.75"/><circle cx="89.4" cy="470.0" r="2.75"/><circle cx="90.8" cy="436.3" r="2.75"/><circle cx="92.1" cy="471.1" r="2.75"/><circle cx="93.5" cy="441.5" r="2.75"/><circle cx="94.9" cy="425.7" r="2.75"/><circle cx="96.2" cy="421.3" r="2.75"/><circle cx="97.6" cy="458.5" r="2.75"/><circle cx="98.9" cy="461.9" r="2.75"/><circle cx="100.3" cy="432.9" r="2.75"/><circle cx="101.7" cy="476.0" r="2.75"/><circle cx="103.0" cy="483.3" r="2.75"/><circle cx="104.4" cy="480.6" r="2.75"/><circle cx="105.8" cy="470.4" r="2.75"/><circle cx="107.1" cy="475.7" r="2.75"/><circle cx="108.5" cy="491.5" r="2.75"/><circle cx="109.8" cy="503.6" r="2.75"/><circle cx="111.2" cy="505.6" r="2.75"/><circle cx="112.6" cy="495.7" r="2.75"/><circle cx="113.9" cy="504.4" r="2.75"/><circle cx="115.3" cy="502.1" r="2.75"/><circle cx="116.6" cy="522.8" r="2.75"/><circle cx="118.0" cy="497.6" r="2.75"/><circle cx="119.4" cy="504.6" r="2.75"/><circle cx="120.7" cy="524.8" r="2.75"/><circle cx="122.1" cy="508.7" r="2.75"/><circle cx="123.5" cy="505.0" r="2.75"/><circle cx="124.8" cy="526.9" r="2.75"/><circle cx="126.2" cy="519.9" r="2.75"/><circle cx="127.5" cy="502.7" r="2.75"/><circle cx="128.9" cy="506.8" r="2.75"/><circle cx="130.3" cy="507.2" r="2.75"/><circle cx="131.6" cy="519.1" r="2.75"/><circle cx="133.0" cy="524.3" r="2.75"/><circle cx="134.3" cy="513.8" r="2.75"/><circle cx="135.7" cy="517.9" r="2.75"/><circle cx="137.1" cy="518.9" r="2.75"/><circle cx="138.4" cy="519.6" r="2.75"/><circle cx="139.8" cy="528.3" r="2.75"/><circle cx="141.2" cy="518.7" r="2.75"/><circle cx="142.5" cy="518.6" r="2.75"/><circle cx="143.9" cy="530.1" r="2.75"/><circle cx="145.2" cy="534.5" r="2.75"/><circle cx="146.6" cy="541.1" r="2.75"/><circle cx="148.0" cy="524.9" r="2.75"/><circle cx="149.3" cy="524.8" r="2.75"/><circle cx="150.7" cy="526.6" r="2.75"/><circle cx="152.1" cy="524.1" r="2.75"/><circle cx="153.4" cy="530.3" r="2.75"/><circle cx="154.8" cy="516.1" r="2.75"/><circle cx="156.1" cy="513.7" r="2.75"/><circle cx="157.5" cy="530.6" r="2.75"/><circle cx="158.9" cy="532.0" r="2.75"/><circle cx="160.2" cy="520.0" r="2.75"/><circle cx="161.6" cy="533.0" r="2.75"/><circle cx="162.9" cy="530.4" r="2.75"/><circle cx="164.3" cy="532.2" r="2.75"/><circle cx="165.7" cy="525.2" r="2.75"/><circle cx="167.0" cy="509.0" r="2.75"/><circle cx="168.4" cy="526.9" r="2.75"/><circle cx="169.8" cy="533.5" r="2.75"/><circle cx="171.1" cy="536.5" r="2.75"/><circle cx="172.5" cy="514.5" r="2.75"/><circle cx="173.8" cy="531.5" r="2.75"/><circle cx="175.2" cy="525.8" r="2.75"/><circle cx="176.6" cy="524.1" r="2.75"/><circle cx="177.9" cy="534.2" r="2.75"/><circle cx="179.3" cy="548.7" r="2.75"/><circle cx="180.7" cy="522.0" r="2.75"/><circle cx="182.0" cy="519.9" r="2.75"/><circle cx="183.4" cy="522.2" r="2.75"/><circle cx="184.7" cy="544.7" r="2.75"/><circle cx="186.1" cy="530.2" r="2.75"/><circle cx="187.5" cy="528.3" r="2.75"/><circle cx="188.8" cy="538.2" r="2.75"/><circle cx="190.2" cy="531.7" r="2.75"/><circle cx="191.5" cy="520.7" r="2.75"/><circle cx="192.9" cy="541.3" r="2.75"/><circle cx="194.3" cy="531.7" r="2.75"/><circle cx="195.6" cy="528.5" r="2.75"/><circle cx="197.0" cy="534.5" r="2.75"/><circle cx="198.4" cy="534.2" r="2.75"/><circle cx="199.7" cy="538.1" r="2.75"/><circle cx="201.1" cy="518.4" r="2.75"/><circle cx="202.4" cy="533.3" r="2.75"/><circle cx="203.8" cy="534.0" r="2.75"/><circle cx="205.2" cy="525.9" r="2.75"/><circle cx="206.5" cy="558.0" r="2.75"/><circle cx="207.9" cy="540.2" r="2.75"/><circle cx="209.3" cy="540.7" r="2.75"/><circle cx="210.6" cy="539.7" r="2.75"/><circle cx="212.0" cy="531.0" r="2.75"/><circle cx="213.3" cy="536.4" r="2.75"/><circle cx="214.7" cy="531.9" r="2.75"/></g></g><rect x="24.9" y="397.0" width="190.29999999999998" height="164.5" fill="none" stroke="#404040" stroke-width="1"/><line x1="43.9" y1="561.5" x2="43.9" y2="559.5" stroke="#404040" stroke-width="1"/><line x1="43.9" y1="397.0" x2="43.9" y2="399.0" stroke="#404040" stroke-width="1"/><line x1="139.1" y1="561.5" x2="139.1" y2="559.5" stroke="#404040" stroke-width="1"/><line x1="139.1" y1="397.0" x2="139.1" y2="399.0" stroke="#404040" stroke-width="1"/><line x1="24.9" y1="466" x2="26.9" y2="466" stroke="#404040" stroke-width="1"/><line x1="215.2" y1="466" x2="213.2" y2="466" stroke="#404040" stroke-width="1"/><text x="50.5" y="572.2" text-anchor="middle" class="t">1.105</text><text x="144.3" y="572.2" text-anchor="middle" class="t">1.11</text><text x="114.6" y="582.2" text-anchor="middle" class="t" style="font-size:9.9px">Energy (eV)</text><text x="20.2" y="407.6" text-anchor="end" class="t">1</text><text x="20.2" y="540.8" text-anchor="end" class="t">0</text><text transform="translate(12.4,476.6) rotate(-90)" text-anchor="middle" class="t">PL (cts/s/nW)</text><text x="0.4" y="399.0" class="lt">c</text><text x="207.2" y="412.3" text-anchor="end" class="an">D/ε<tspan font-size="6" dy="3.4">0</tspan><tspan dy="-3.4"> = 0 V/nm</tspan></text><text x="207.2" y="425.8" text-anchor="end" class="an">= -1</text><g transform="translate(188.8,425.8)" fill="none" stroke="#262626" stroke-linecap="round"><path d="M-7.3 -6.2 L-4.6 -6.2" stroke-width="0.8"/><path d="M-5.4 -6.1 L-6.6 -0.5" stroke-width="1.3"/><path d="M-6.5 -0.4 Q-3.5 -1.8 -0.8 -6.0" stroke-width="0.9"/></g><clipPath id="cpd"><rect x="258.8" y="5.5" width="190.09999999999997" height="169.9"/></clipPath><g clip-path="url(#cpd)"><g fill="#3874bc" stroke="#3468a8" stroke-width="0.5"><circle cx="259.3" cy="144.8" r="2.75"/><circle cx="260.7" cy="143.6" r="2.75"/><circle cx="262.0" cy="157.5" r="2.75"/><circle cx="263.4" cy="159.1" r="2.75"/><circle cx="264.7" cy="147.0" r="2.75"/><circle cx="266.1" cy="137.4" r="2.75"/><circle cx="267.5" cy="146.5" r="2.75"/><circle cx="268.8" cy="145.0" r="2.75"/><circle cx="270.2" cy="138.6" r="2.75"/><circle cx="271.5" cy="153.8" r="2.75"/><circle cx="272.9" cy="149.9" r="2.75"/><circle cx="274.3" cy="133.5" r="2.75"/><circle cx="275.6" cy="148.1" r="2.75"/><circle cx="277.0" cy="132.0" r="2.75"/><circle cx="278.3" cy="137.8" r="2.75"/><circle cx="279.7" cy="133.7" r="2.75"/><circle cx="281.1" cy="133.6" r="2.75"/><circle cx="282.4" cy="137.5" r="2.75"/><circle cx="283.8" cy="132.9" r="2.75"/><circle cx="285.1" cy="132.4" r="2.75"/><circle cx="286.5" cy="142.2" r="2.75"/><circle cx="287.9" cy="128.3" r="2.75"/><circle cx="289.2" cy="131.3" r="2.75"/><circle cx="290.6" cy="114.1" r="2.75"/><circle cx="292.0" cy="125.0" r="2.75"/><circle cx="293.3" cy="127.1" r="2.75"/><circle cx="294.7" cy="120.8" r="2.75"/><circle cx="296.0" cy="113.5" r="2.75"/><circle cx="297.4" cy="125.3" r="2.75"/><circle cx="298.8" cy="127.2" r="2.75"/><circle cx="300.1" cy="114.8" r="2.75"/><circle cx="301.5" cy="125.3" r="2.75"/><circle cx="302.8" cy="121.0" r="2.75"/><circle cx="304.2" cy="109.9" r="2.75"/><circle cx="305.6" cy="108.1" r="2.75"/><circle cx="306.9" cy="111.3" r="2.75"/><circle cx="308.3" cy="105.1" r="2.75"/><circle cx="309.6" cy="86.1" r="2.75"/><circle cx="311.0" cy="90.4" r="2.75"/><circle cx="312.4" cy="99.9" r="2.75"/><circle cx="313.7" cy="69.4" r="2.75"/><circle cx="315.1" cy="78.3" r="2.75"/><circle cx="316.4" cy="65.8" r="2.75"/><circle cx="317.8" cy="74.1" r="2.75"/><circle cx="319.2" cy="75.4" r="2.75"/><circle cx="320.5" cy="78.2" r="2.75"/><circle cx="321.9" cy="81.0" r="2.75"/><circle cx="323.2" cy="75.5" r="2.75"/><circle cx="324.6" cy="53.0" r="2.75"/><circle cx="326.0" cy="58.7" r="2.75"/><circle cx="327.3" cy="64.3" r="2.75"/><circle cx="328.7" cy="52.3" r="2.75"/><circle cx="330.0" cy="52.9" r="2.75"/><circle cx="331.4" cy="49.8" r="2.75"/><circle cx="332.8" cy="70.2" r="2.75"/><circle cx="334.1" cy="52.6" r="2.75"/><circle cx="335.5" cy="82.4" r="2.75"/><circle cx="336.8" cy="73.9" r="2.75"/><circle cx="338.2" cy="108.3" r="2.75"/><circle cx="339.6" cy="84.9" r="2.75"/><circle cx="340.9" cy="97.5" r="2.75"/><circle cx="342.3" cy="108.8" r="2.75"/><circle cx="343.6" cy="91.5" r="2.75"/><circle cx="345.0" cy="100.2" r="2.75"/><circle cx="346.4" cy="112.5" r="2.75"/><circle cx="347.7" cy="111.6" r="2.75"/><circle cx="349.1" cy="113.9" r="2.75"/><circle cx="350.4" cy="116.8" r="2.75"/><circle cx="351.8" cy="124.3" r="2.75"/><circle cx="353.2" cy="122.8" r="2.75"/><circle cx="354.5" cy="140.9" r="2.75"/><circle cx="355.9" cy="126.7" r="2.75"/><circle cx="357.3" cy="143.4" r="2.75"/><circle cx="358.6" cy="142.9" r="2.75"/><circle cx="360.0" cy="139.2" r="2.75"/><circle cx="361.3" cy="135.6" r="2.75"/><circle cx="362.7" cy="140.0" r="2.75"/><circle cx="364.1" cy="148.4" r="2.75"/><circle cx="365.4" cy="147.7" r="2.75"/><circle cx="366.8" cy="140.8" r="2.75"/><circle cx="368.1" cy="146.9" r="2.75"/><circle cx="369.5" cy="138.9" r="2.75"/><circle cx="370.9" cy="151.3" r="2.75"/><circle cx="372.2" cy="152.4" r="2.75"/><circle cx="373.6" cy="136.8" r="2.75"/><circle cx="374.9" cy="148.3" r="2.75"/><circle cx="376.3" cy="157.2" r="2.75"/><circle cx="377.7" cy="140.3" r="2.75"/><circle cx="379.0" cy="139.1" r="2.75"/><circle cx="380.4" cy="136.6" r="2.75"/><circle cx="381.7" cy="142.5" r="2.75"/><circle cx="383.1" cy="128.4" r="2.75"/><circle cx="384.5" cy="139.0" r="2.75"/><circle cx="385.8" cy="132.4" r="2.75"/><circle cx="387.2" cy="139.1" r="2.75"/><circle cx="388.5" cy="142.0" r="2.75"/><circle cx="389.9" cy="140.0" r="2.75"/><circle cx="391.3" cy="151.6" r="2.75"/><circle cx="392.6" cy="133.1" r="2.75"/><circle cx="394.0" cy="137.5" r="2.75"/><circle cx="395.3" cy="133.2" r="2.75"/><circle cx="396.7" cy="142.5" r="2.75"/><circle cx="398.1" cy="136.7" r="2.75"/><circle cx="399.4" cy="139.9" r="2.75"/><circle cx="400.8" cy="154.0" r="2.75"/><circle cx="402.1" cy="141.1" r="2.75"/><circle cx="403.5" cy="143.2" r="2.75"/><circle cx="404.9" cy="144.0" r="2.75"/><circle cx="406.2" cy="144.4" r="2.75"/><circle cx="407.6" cy="146.9" r="2.75"/><circle cx="408.9" cy="146.7" r="2.75"/><circle cx="410.3" cy="139.3" r="2.75"/><circle cx="411.7" cy="143.4" r="2.75"/><circle cx="413.0" cy="140.3" r="2.75"/><circle cx="414.4" cy="133.4" r="2.75"/><circle cx="415.7" cy="145.0" r="2.75"/><circle cx="417.1" cy="146.1" r="2.75"/><circle cx="418.5" cy="142.6" r="2.75"/><circle cx="419.8" cy="148.1" r="2.75"/><circle cx="421.2" cy="127.8" r="2.75"/><circle cx="422.6" cy="165.0" r="2.75"/><circle cx="423.9" cy="139.9" r="2.75"/><circle cx="425.3" cy="134.6" r="2.75"/><circle cx="426.6" cy="138.7" r="2.75"/><circle cx="428.0" cy="137.1" r="2.75"/><circle cx="429.4" cy="141.5" r="2.75"/><circle cx="430.7" cy="146.5" r="2.75"/><circle cx="432.1" cy="148.1" r="2.75"/><circle cx="433.4" cy="136.4" r="2.75"/><circle cx="434.8" cy="139.6" r="2.75"/><circle cx="436.2" cy="154.0" r="2.75"/><circle cx="437.5" cy="153.5" r="2.75"/><circle cx="438.9" cy="147.9" r="2.75"/><circle cx="440.2" cy="149.8" r="2.75"/><circle cx="441.6" cy="137.5" r="2.75"/><circle cx="443.0" cy="144.1" r="2.75"/><circle cx="444.3" cy="144.5" r="2.75"/><circle cx="445.7" cy="139.3" r="2.75"/><circle cx="447.0" cy="150.4" r="2.75"/><circle cx="448.4" cy="145.7" r="2.75"/></g><g fill="#dc5027" stroke="#c44a2a" stroke-width="0.5"><circle cx="259.3" cy="154.0" r="2.75"/><circle cx="260.7" cy="146.9" r="2.75"/><circle cx="262.0" cy="140.5" r="2.75"/><circle cx="263.4" cy="155.3" r="2.75"/><circle cx="264.7" cy="137.4" r="2.75"/><circle cx="266.1" cy="144.6" r="2.75"/><circle cx="267.5" cy="147.2" r="2.75"/><circle cx="268.8" cy="141.9" r="2.75"/><circle cx="270.2" cy="143.9" r="2.75"/><circle cx="271.5" cy="149.8" r="2.75"/><circle cx="272.9" cy="145.8" r="2.75"/><circle cx="274.3" cy="158.5" r="2.75"/><circle cx="275.6" cy="143.1" r="2.75"/><circle cx="277.0" cy="143.3" r="2.75"/><circle cx="278.3" cy="150.5" r="2.75"/><circle cx="279.7" cy="148.7" r="2.75"/><circle cx="281.1" cy="149.8" r="2.75"/><circle cx="282.4" cy="137.7" r="2.75"/><circle cx="283.8" cy="142.7" r="2.75"/><circle cx="285.1" cy="129.5" r="2.75"/><circle cx="286.5" cy="133.1" r="2.75"/><circle cx="287.9" cy="129.0" r="2.75"/><circle cx="289.2" cy="134.5" r="2.75"/><circle cx="290.6" cy="138.0" r="2.75"/><circle cx="292.0" cy="126.1" r="2.75"/><circle cx="293.3" cy="125.1" r="2.75"/><circle cx="294.7" cy="131.3" r="2.75"/><circle cx="296.0" cy="117.3" r="2.75"/><circle cx="297.4" cy="130.8" r="2.75"/><circle cx="298.8" cy="104.2" r="2.75"/><circle cx="300.1" cy="114.8" r="2.75"/><circle cx="301.5" cy="115.2" r="2.75"/><circle cx="302.8" cy="111.1" r="2.75"/><circle cx="304.2" cy="106.5" r="2.75"/><circle cx="305.6" cy="99.9" r="2.75"/><circle cx="306.9" cy="87.7" r="2.75"/><circle cx="308.3" cy="93.7" r="2.75"/><circle cx="309.6" cy="102.5" r="2.75"/><circle cx="311.0" cy="98.5" r="2.75"/><circle cx="312.4" cy="108.2" r="2.75"/><circle cx="313.7" cy="92.8" r="2.75"/><circle cx="315.1" cy="96.8" r="2.75"/><circle cx="316.4" cy="65.9" r="2.75"/><circle cx="317.8" cy="60.0" r="2.75"/><circle cx="319.2" cy="64.2" r="2.75"/><circle cx="320.5" cy="68.1" r="2.75"/><circle cx="321.9" cy="57.4" r="2.75"/><circle cx="323.2" cy="55.8" r="2.75"/><circle cx="324.6" cy="68.9" r="2.75"/><circle cx="326.0" cy="51.1" r="2.75"/><circle cx="327.3" cy="73.9" r="2.75"/><circle cx="328.7" cy="64.4" r="2.75"/><circle cx="330.0" cy="38.0" r="2.75"/><circle cx="331.4" cy="49.6" r="2.75"/><circle cx="332.8" cy="67.4" r="2.75"/><circle cx="334.1" cy="69.6" r="2.75"/><circle cx="335.5" cy="84.6" r="2.75"/><circle cx="336.8" cy="75.6" r="2.75"/><circle cx="338.2" cy="97.2" r="2.75"/><circle cx="339.6" cy="67.1" r="2.75"/><circle cx="340.9" cy="93.1" r="2.75"/><circle cx="342.3" cy="116.2" r="2.75"/><circle cx="343.6" cy="104.6" r="2.75"/><circle cx="345.0" cy="105.5" r="2.75"/><circle cx="346.4" cy="124.9" r="2.75"/><circle cx="347.7" cy="112.0" r="2.75"/><circle cx="349.1" cy="113.2" r="2.75"/><circle cx="350.4" cy="124.2" r="2.75"/><circle cx="351.8" cy="127.6" r="2.75"/><circle cx="353.2" cy="130.5" r="2.75"/><circle cx="354.5" cy="125.9" r="2.75"/><circle cx="355.9" cy="129.9" r="2.75"/><circle cx="357.3" cy="131.8" r="2.75"/><circle cx="358.6" cy="142.7" r="2.75"/><circle cx="360.0" cy="133.6" r="2.75"/><circle cx="361.3" cy="138.1" r="2.75"/><circle cx="362.7" cy="140.2" r="2.75"/><circle cx="364.1" cy="141.7" r="2.75"/><circle cx="365.4" cy="143.0" r="2.75"/><circle cx="366.8" cy="142.4" r="2.75"/><circle cx="368.1" cy="146.4" r="2.75"/><circle cx="369.5" cy="134.5" r="2.75"/><circle cx="370.9" cy="140.5" r="2.75"/><circle cx="372.2" cy="149.1" r="2.75"/><circle cx="373.6" cy="145.0" r="2.75"/><circle cx="374.9" cy="145.7" r="2.75"/><circle cx="376.3" cy="141.5" r="2.75"/><circle cx="377.7" cy="142.5" r="2.75"/><circle cx="379.0" cy="144.7" r="2.75"/><circle cx="380.4" cy="153.1" r="2.75"/><circle cx="381.7" cy="139.4" r="2.75"/><circle cx="383.1" cy="150.6" r="2.75"/><circle cx="384.5" cy="135.5" r="2.75"/><circle cx="385.8" cy="139.6" r="2.75"/><circle cx="387.2" cy="145.5" r="2.75"/><circle cx="388.5" cy="143.9" r="2.75"/><circle cx="389.9" cy="138.5" r="2.75"/><circle cx="391.3" cy="144.3" r="2.75"/><circle cx="392.6" cy="152.4" r="2.75"/><circle cx="394.0" cy="137.8" r="2.75"/><circle cx="395.3" cy="137.0" r="2.75"/><circle cx="396.7" cy="139.5" r="2.75"/><circle cx="398.1" cy="146.0" r="2.75"/><circle cx="399.4" cy="148.4" r="2.75"/><circle cx="400.8" cy="148.3" r="2.75"/><circle cx="402.1" cy="149.4" r="2.75"/><circle cx="403.5" cy="151.0" r="2.75"/><circle cx="404.9" cy="140.4" r="2.75"/><circle cx="406.2" cy="147.1" r="2.75"/><circle cx="407.6" cy="156.6" r="2.75"/><circle cx="408.9" cy="148.0" r="2.75"/><circle cx="410.3" cy="160.7" r="2.75"/><circle cx="411.7" cy="149.6" r="2.75"/><circle cx="413.0" cy="140.9" r="2.75"/><circle cx="414.4" cy="139.9" r="2.75"/><circle cx="415.7" cy="145.2" r="2.75"/><circle cx="417.1" cy="136.2" r="2.75"/><circle cx="418.5" cy="133.9" r="2.75"/><circle cx="419.8" cy="135.4" r="2.75"/><circle cx="421.2" cy="147.5" r="2.75"/><circle cx="422.6" cy="134.4" r="2.75"/><circle cx="423.9" cy="144.5" r="2.75"/><circle cx="425.3" cy="154.2" r="2.75"/><circle cx="426.6" cy="137.6" r="2.75"/><circle cx="428.0" cy="148.6" r="2.75"/><circle cx="429.4" cy="153.6" r="2.75"/><circle cx="430.7" cy="147.6" r="2.75"/><circle cx="432.1" cy="136.7" r="2.75"/><circle cx="433.4" cy="168.8" r="2.75"/><circle cx="434.8" cy="148.0" r="2.75"/><circle cx="436.2" cy="136.1" r="2.75"/><circle cx="437.5" cy="131.0" r="2.75"/><circle cx="438.9" cy="157.9" r="2.75"/><circle cx="440.2" cy="140.9" r="2.75"/><circle cx="441.6" cy="147.8" r="2.75"/><circle cx="443.0" cy="135.6" r="2.75"/><circle cx="444.3" cy="143.2" r="2.75"/><circle cx="445.7" cy="151.9" r="2.75"/><circle cx="447.0" cy="148.6" r="2.75"/><circle cx="448.4" cy="144.1" r="2.75"/></g></g><rect x="258.8" y="8.5" width="190.09999999999997" height="163.9" fill="none" stroke="#404040" stroke-width="1"/><line x1="277.8" y1="172.4" x2="277.8" y2="170.4" stroke="#404040" stroke-width="1"/><line x1="277.8" y1="8.5" x2="277.8" y2="10.5" stroke="#404040" stroke-width="1"/><line x1="372.9" y1="172.4" x2="372.9" y2="170.4" stroke="#404040" stroke-width="1"/><line x1="372.9" y1="8.5" x2="372.9" y2="10.5" stroke="#404040" stroke-width="1"/><line x1="258.8" y1="77.4" x2="260.8" y2="77.4" stroke="#404040" stroke-width="1"/><line x1="448.9" y1="77.4" x2="446.9" y2="77.4" stroke="#404040" stroke-width="1"/><text x="284.4" y="183.1" text-anchor="middle" class="t">1.105</text><text x="378.2" y="183.1" text-anchor="middle" class="t">1.11</text><text x="350.6" y="193.1" text-anchor="middle" class="t" style="font-size:9.9px">Energy (eV)</text><text x="254.8" y="18.9" text-anchor="end" class="t">1</text><text x="254.8" y="152.2" text-anchor="end" class="t">0</text><text transform="translate(247.2,86.6) rotate(-90)" text-anchor="middle" class="t">PL (cts/s/nW)</text><text x="233.8" y="10.5" class="lt">d</text><text x="440.9" y="23.8" text-anchor="end" class="an">D/ε<tspan font-size="6" dy="3.4">0</tspan><tspan dy="-3.4"> = 0.067 V/nm</tspan></text><text x="440.9" y="37.3" text-anchor="end" class="an">= -2/3</text><g transform="translate(414.5,37.3)" fill="none" stroke="#262626" stroke-linecap="round"><path d="M-7.3 -6.2 L-4.6 -6.2" stroke-width="0.8"/><path d="M-5.4 -6.1 L-6.6 -0.5" stroke-width="1.3"/><path d="M-6.5 -0.4 Q-3.5 -1.8 -0.8 -6.0" stroke-width="0.9"/></g><clipPath id="cpe"><rect x="258.8" y="199.8" width="190.09999999999997" height="170.5"/></clipPath><g clip-path="url(#cpe)"><g fill="#3874bc" stroke="#3468a8" stroke-width="0.5"><circle cx="259.3" cy="358.3" r="2.75"/><circle cx="260.7" cy="363.2" r="2.75"/><circle cx="262.0" cy="361.5" r="2.75"/><circle cx="263.4" cy="359.5" r="2.75"/><circle cx="264.7" cy="363.1" r="2.75"/><circle cx="266.1" cy="358.6" r="2.75"/><circle cx="267.5" cy="362.8" r="2.75"/><circle cx="268.8" cy="364.8" r="2.75"/><circle cx="270.2" cy="359.3" r="2.75"/><circle cx="271.5" cy="362.2" r="2.75"/><circle cx="272.9" cy="361.1" r="2.75"/><circle cx="274.3" cy="358.1" r="2.75"/><circle cx="275.6" cy="362.0" r="2.75"/><circle cx="277.0" cy="357.8" r="2.75"/><circle cx="278.3" cy="362.0" r="2.75"/><circle cx="279.7" cy="365.1" r="2.75"/><circle cx="281.1" cy="363.1" r="2.75"/><circle cx="282.4" cy="363.4" r="2.75"/><circle cx="283.8" cy="365.0" r="2.75"/><circle cx="285.1" cy="360.4" r="2.75"/><circle cx="286.5" cy="364.9" r="2.75"/><circle cx="287.9" cy="362.1" r="2.75"/><circle cx="289.2" cy="355.7" r="2.75"/><circle cx="290.6" cy="360.3" r="2.75"/><circle cx="292.0" cy="358.8" r="2.75"/><circle cx="293.3" cy="359.7" r="2.75"/><circle cx="294.7" cy="361.2" r="2.75"/><circle cx="296.0" cy="359.2" r="2.75"/><circle cx="297.4" cy="358.8" r="2.75"/><circle cx="298.8" cy="360.9" r="2.75"/><circle cx="300.1" cy="361.7" r="2.75"/><circle cx="301.5" cy="356.3" r="2.75"/><circle cx="302.8" cy="361.5" r="2.75"/><circle cx="304.2" cy="362.4" r="2.75"/><circle cx="305.6" cy="358.7" r="2.75"/><circle cx="306.9" cy="362.2" r="2.75"/><circle cx="308.3" cy="364.1" r="2.75"/><circle cx="309.6" cy="360.2" r="2.75"/><circle cx="311.0" cy="360.2" r="2.75"/><circle cx="312.4" cy="358.7" r="2.75"/><circle cx="313.7" cy="358.9" r="2.75"/><circle cx="315.1" cy="361.1" r="2.75"/><circle cx="316.4" cy="357.4" r="2.75"/><circle cx="317.8" cy="360.8" r="2.75"/><circle cx="319.2" cy="361.8" r="2.75"/><circle cx="320.5" cy="362.1" r="2.75"/><circle cx="321.9" cy="357.8" r="2.75"/><circle cx="323.2" cy="356.8" r="2.75"/><circle cx="324.6" cy="363.4" r="2.75"/><circle cx="326.0" cy="356.4" r="2.75"/><circle cx="327.3" cy="358.8" r="2.75"/><circle cx="328.7" cy="359.4" r="2.75"/><circle cx="330.0" cy="360.3" r="2.75"/><circle cx="331.4" cy="360.0" r="2.75"/><circle cx="332.8" cy="357.7" r="2.75"/><circle cx="334.1" cy="360.2" r="2.75"/><circle cx="335.5" cy="357.0" r="2.75"/><circle cx="336.8" cy="358.7" r="2.75"/><circle cx="338.2" cy="356.4" r="2.75"/><circle cx="339.6" cy="358.4" r="2.75"/><circle cx="340.9" cy="359.4" r="2.75"/><circle cx="342.3" cy="359.7" r="2.75"/><circle cx="343.6" cy="360.7" r="2.75"/><circle cx="345.0" cy="360.4" r="2.75"/><circle cx="346.4" cy="358.2" r="2.75"/><circle cx="347.7" cy="362.8" r="2.75"/><circle cx="349.1" cy="361.2" r="2.75"/><circle cx="350.4" cy="362.1" r="2.75"/><circle cx="351.8" cy="363.2" r="2.75"/><circle cx="353.2" cy="361.8" r="2.75"/><circle cx="354.5" cy="359.6" r="2.75"/><circle cx="355.9" cy="364.1" r="2.75"/><circle cx="357.3" cy="363.1" r="2.75"/><circle cx="358.6" cy="363.3" r="2.75"/><circle cx="360.0" cy="358.6" r="2.75"/><circle cx="361.3" cy="362.3" r="2.75"/><circle cx="362.7" cy="363.4" r="2.75"/><circle cx="364.1" cy="362.9" r="2.75"/><circle cx="365.4" cy="357.7" r="2.75"/><circle cx="366.8" cy="359.9" r="2.75"/><circle cx="368.1" cy="360.2" r="2.75"/><circle cx="369.5" cy="362.5" r="2.75"/><circle cx="370.9" cy="362.9" r="2.75"/><circle cx="372.2" cy="362.4" r="2.75"/><circle cx="373.6" cy="359.9" r="2.75"/><circle cx="374.9" cy="363.7" r="2.75"/><circle cx="376.3" cy="360.0" r="2.75"/><circle cx="377.7" cy="360.8" r="2.75"/><circle cx="379.0" cy="363.7" r="2.75"/><circle cx="380.4" cy="362.2" r="2.75"/><circle cx="381.7" cy="361.1" r="2.75"/><circle cx="383.1" cy="360.2" r="2.75"/><circle cx="384.5" cy="360.9" r="2.75"/><circle cx="385.8" cy="361.5" r="2.75"/><circle cx="387.2" cy="361.8" r="2.75"/><circle cx="388.5" cy="362.3" r="2.75"/><circle cx="389.9" cy="361.1" r="2.75"/><circle cx="391.3" cy="361.9" r="2.75"/><circle cx="392.6" cy="363.5" r="2.75"/><circle cx="394.0" cy="363.6" r="2.75"/><circle cx="395.3" cy="363.1" r="2.75"/><circle cx="396.7" cy="361.6" r="2.75"/><circle cx="398.1" cy="366.0" r="2.75"/><circle cx="399.4" cy="363.0" r="2.75"/><circle cx="400.8" cy="363.4" r="2.75"/><circle cx="402.1" cy="364.0" r="2.75"/><circle cx="403.5" cy="362.8" r="2.75"/><circle cx="404.9" cy="358.8" r="2.75"/><circle cx="406.2" cy="365.6" r="2.75"/><circle cx="407.6" cy="360.8" r="2.75"/><circle cx="408.9" cy="363.2" r="2.75"/><circle cx="410.3" cy="362.9" r="2.75"/><circle cx="411.7" cy="361.1" r="2.75"/><circle cx="413.0" cy="364.7" r="2.75"/><circle cx="414.4" cy="362.3" r="2.75"/><circle cx="415.7" cy="357.3" r="2.75"/><circle cx="417.1" cy="365.0" r="2.75"/><circle cx="418.5" cy="362.1" r="2.75"/><circle cx="419.8" cy="364.2" r="2.75"/><circle cx="421.2" cy="362.5" r="2.75"/><circle cx="422.6" cy="361.6" r="2.75"/><circle cx="423.9" cy="361.5" r="2.75"/><circle cx="425.3" cy="361.2" r="2.75"/><circle cx="426.6" cy="364.0" r="2.75"/><circle cx="428.0" cy="363.3" r="2.75"/><circle cx="429.4" cy="362.0" r="2.75"/><circle cx="430.7" cy="359.4" r="2.75"/><circle cx="432.1" cy="360.8" r="2.75"/><circle cx="433.4" cy="360.3" r="2.75"/><circle cx="434.8" cy="362.0" r="2.75"/><circle cx="436.2" cy="361.8" r="2.75"/><circle cx="437.5" cy="358.5" r="2.75"/><circle cx="438.9" cy="365.1" r="2.75"/><circle cx="440.2" cy="357.9" r="2.75"/><circle cx="441.6" cy="360.2" r="2.75"/><circle cx="443.0" cy="360.8" r="2.75"/><circle cx="444.3" cy="366.4" r="2.75"/><circle cx="445.7" cy="361.0" r="2.75"/><circle cx="447.0" cy="363.2" r="2.75"/><circle cx="448.4" cy="364.5" r="2.75"/></g><g fill="#dc5027" stroke="#c44a2a" stroke-width="0.5"><circle cx="259.3" cy="357.8" r="2.75"/><circle cx="260.7" cy="359.8" r="2.75"/><circle cx="262.0" cy="355.7" r="2.75"/><circle cx="263.4" cy="359.5" r="2.75"/><circle cx="264.7" cy="361.7" r="2.75"/><circle cx="266.1" cy="359.7" r="2.75"/><circle cx="267.5" cy="358.0" r="2.75"/><circle cx="268.8" cy="362.9" r="2.75"/><circle cx="270.2" cy="362.1" r="2.75"/><circle cx="271.5" cy="359.1" r="2.75"/><circle cx="272.9" cy="357.4" r="2.75"/><circle cx="274.3" cy="362.1" r="2.75"/><circle cx="275.6" cy="353.8" r="2.75"/><circle cx="277.0" cy="359.7" r="2.75"/><circle cx="278.3" cy="358.2" r="2.75"/><circle cx="279.7" cy="355.8" r="2.75"/><circle cx="281.1" cy="356.5" r="2.75"/><circle cx="282.4" cy="358.8" r="2.75"/><circle cx="283.8" cy="357.8" r="2.75"/><circle cx="285.1" cy="360.5" r="2.75"/><circle cx="286.5" cy="357.3" r="2.75"/><circle cx="287.9" cy="360.4" r="2.75"/><circle cx="289.2" cy="357.1" r="2.75"/><circle cx="290.6" cy="355.6" r="2.75"/><circle cx="292.0" cy="357.1" r="2.75"/><circle cx="293.3" cy="356.1" r="2.75"/><circle cx="294.7" cy="357.0" r="2.75"/><circle cx="296.0" cy="355.8" r="2.75"/><circle cx="297.4" cy="354.8" r="2.75"/><circle cx="298.8" cy="355.6" r="2.75"/><circle cx="300.1" cy="358.7" r="2.75"/><circle cx="301.5" cy="357.3" r="2.75"/><circle cx="302.8" cy="353.7" r="2.75"/><circle cx="304.2" cy="351.4" r="2.75"/><circle cx="305.6" cy="347.6" r="2.75"/><circle cx="306.9" cy="353.1" r="2.75"/><circle cx="308.3" cy="350.9" r="2.75"/><circle cx="309.6" cy="352.7" r="2.75"/><circle cx="311.0" cy="347.4" r="2.75"/><circle cx="312.4" cy="351.6" r="2.75"/><circle cx="313.7" cy="347.1" r="2.75"/><circle cx="315.1" cy="345.5" r="2.75"/><circle cx="316.4" cy="341.1" r="2.75"/><circle cx="317.8" cy="341.4" r="2.75"/><circle cx="319.2" cy="330.3" r="2.75"/><circle cx="320.5" cy="325.9" r="2.75"/><circle cx="321.9" cy="315.6" r="2.75"/><circle cx="323.2" cy="306.4" r="2.75"/><circle cx="324.6" cy="300.9" r="2.75"/><circle cx="326.0" cy="283.7" r="2.75"/><circle cx="327.3" cy="264.1" r="2.75"/><circle cx="328.7" cy="255.1" r="2.75"/><circle cx="330.0" cy="249.6" r="2.75"/><circle cx="331.4" cy="238.8" r="2.75"/><circle cx="332.8" cy="231.6" r="2.75"/><circle cx="334.1" cy="232.0" r="2.75"/><circle cx="335.5" cy="241.9" r="2.75"/><circle cx="336.8" cy="240.5" r="2.75"/><circle cx="338.2" cy="258.8" r="2.75"/><circle cx="339.6" cy="267.2" r="2.75"/><circle cx="340.9" cy="287.4" r="2.75"/><circle cx="342.3" cy="294.2" r="2.75"/><circle cx="343.6" cy="305.3" r="2.75"/><circle cx="345.0" cy="316.2" r="2.75"/><circle cx="346.4" cy="327.8" r="2.75"/><circle cx="347.7" cy="333.4" r="2.75"/><circle cx="349.1" cy="335.2" r="2.75"/><circle cx="350.4" cy="344.2" r="2.75"/><circle cx="351.8" cy="343.9" r="2.75"/><circle cx="353.2" cy="345.8" r="2.75"/><circle cx="354.5" cy="349.1" r="2.75"/><circle cx="355.9" cy="346.8" r="2.75"/><circle cx="357.3" cy="350.3" r="2.75"/><circle cx="358.6" cy="355.0" r="2.75"/><circle cx="360.0" cy="351.1" r="2.75"/><circle cx="361.3" cy="353.9" r="2.75"/><circle cx="362.7" cy="356.3" r="2.75"/><circle cx="364.1" cy="353.7" r="2.75"/><circle cx="365.4" cy="351.1" r="2.75"/><circle cx="366.8" cy="357.4" r="2.75"/><circle cx="368.1" cy="356.0" r="2.75"/><circle cx="369.5" cy="355.1" r="2.75"/><circle cx="370.9" cy="356.9" r="2.75"/><circle cx="372.2" cy="358.3" r="2.75"/><circle cx="373.6" cy="355.0" r="2.75"/><circle cx="374.9" cy="356.2" r="2.75"/><circle cx="376.3" cy="355.9" r="2.75"/><circle cx="377.7" cy="356.8" r="2.75"/><circle cx="379.0" cy="359.8" r="2.75"/><circle cx="380.4" cy="357.1" r="2.75"/><circle cx="381.7" cy="358.0" r="2.75"/><circle cx="383.1" cy="357.2" r="2.75"/><circle cx="384.5" cy="356.1" r="2.75"/><circle cx="385.8" cy="354.8" r="2.75"/><circle cx="387.2" cy="359.2" r="2.75"/><circle cx="388.5" cy="359.6" r="2.75"/><circle cx="389.9" cy="355.6" r="2.75"/><circle cx="391.3" cy="358.4" r="2.75"/><circle cx="392.6" cy="357.8" r="2.75"/><circle cx="394.0" cy="358.9" r="2.75"/><circle cx="395.3" cy="358.1" r="2.75"/><circle cx="396.7" cy="356.1" r="2.75"/><circle cx="398.1" cy="357.7" r="2.75"/><circle cx="399.4" cy="361.3" r="2.75"/><circle cx="400.8" cy="357.6" r="2.75"/><circle cx="402.1" cy="359.7" r="2.75"/><circle cx="403.5" cy="354.8" r="2.75"/><circle cx="404.9" cy="360.4" r="2.75"/><circle cx="406.2" cy="359.1" r="2.75"/><circle cx="407.6" cy="359.3" r="2.75"/><circle cx="408.9" cy="361.1" r="2.75"/><circle cx="410.3" cy="358.2" r="2.75"/><circle cx="411.7" cy="358.9" r="2.75"/><circle cx="413.0" cy="358.4" r="2.75"/><circle cx="414.4" cy="362.1" r="2.75"/><circle cx="415.7" cy="354.5" r="2.75"/><circle cx="417.1" cy="360.4" r="2.75"/><circle cx="418.5" cy="362.2" r="2.75"/><circle cx="419.8" cy="359.5" r="2.75"/><circle cx="421.2" cy="359.9" r="2.75"/><circle cx="422.6" cy="358.6" r="2.75"/><circle cx="423.9" cy="355.5" r="2.75"/><circle cx="425.3" cy="356.7" r="2.75"/><circle cx="426.6" cy="358.2" r="2.75"/><circle cx="428.0" cy="355.6" r="2.75"/><circle cx="429.4" cy="355.4" r="2.75"/><circle cx="430.7" cy="361.2" r="2.75"/><circle cx="432.1" cy="360.0" r="2.75"/><circle cx="433.4" cy="360.8" r="2.75"/><circle cx="434.8" cy="358.8" r="2.75"/><circle cx="436.2" cy="357.7" r="2.75"/><circle cx="437.5" cy="360.2" r="2.75"/><circle cx="438.9" cy="360.3" r="2.75"/><circle cx="440.2" cy="360.8" r="2.75"/><circle cx="441.6" cy="364.8" r="2.75"/><circle cx="443.0" cy="360.9" r="2.75"/><circle cx="444.3" cy="360.2" r="2.75"/><circle cx="445.7" cy="357.3" r="2.75"/><circle cx="447.0" cy="359.1" r="2.75"/><circle cx="448.4" cy="362.1" r="2.75"/></g></g><rect x="258.8" y="202.8" width="190.09999999999997" height="164.5" fill="none" stroke="#404040" stroke-width="1"/><line x1="277.8" y1="367.3" x2="277.8" y2="365.3" stroke="#404040" stroke-width="1"/><line x1="277.8" y1="202.8" x2="277.8" y2="204.8" stroke="#404040" stroke-width="1"/><line x1="372.9" y1="367.3" x2="372.9" y2="365.3" stroke="#404040" stroke-width="1"/><line x1="372.9" y1="202.8" x2="372.9" y2="204.8" stroke="#404040" stroke-width="1"/><line x1="258.8" y1="280.7" x2="260.8" y2="280.7" stroke="#404040" stroke-width="1"/><line x1="448.9" y1="280.7" x2="446.9" y2="280.7" stroke="#404040" stroke-width="1"/><text x="284.4" y="378.0" text-anchor="middle" class="t">1.105</text><text x="378.2" y="378.0" text-anchor="middle" class="t">1.11</text><text x="354.1" y="388.0" text-anchor="middle" class="t" style="font-size:9.9px">Energy (eV)</text><text x="254.8" y="213.2" text-anchor="end" class="t">5</text><text x="254.8" y="362.2" text-anchor="end" class="t">0</text><text transform="translate(247.2,285.1) rotate(-90)" text-anchor="middle" class="t">PL (cts/s/nW)</text><text x="233.8" y="204.8" class="lt">e</text><text x="440.9" y="218.1" text-anchor="end" class="an">D/ε<tspan font-size="6" dy="3.4">0</tspan><tspan dy="-3.4"> = 0.037 V/nm</tspan></text><text x="440.9" y="231.6" text-anchor="end" class="an">= -2/3</text><g transform="translate(414.5,231.6)" fill="none" stroke="#262626" stroke-linecap="round"><path d="M-7.3 -6.2 L-4.6 -6.2" stroke-width="0.8"/><path d="M-5.4 -6.1 L-6.6 -0.5" stroke-width="1.3"/><path d="M-6.5 -0.4 Q-3.5 -1.8 -0.8 -6.0" stroke-width="0.9"/></g><clipPath id="cpf"><rect x="258.8" y="394.0" width="190.09999999999997" height="170.5"/></clipPath><g clip-path="url(#cpf)"><g fill="#3874bc" stroke="#3468a8" stroke-width="0.5"><circle cx="259.3" cy="554.8" r="2.75"/><circle cx="260.7" cy="546.3" r="2.75"/><circle cx="262.0" cy="541.9" r="2.75"/><circle cx="263.4" cy="544.9" r="2.75"/><circle cx="264.7" cy="542.4" r="2.75"/><circle cx="266.1" cy="551.9" r="2.75"/><circle cx="267.5" cy="556.9" r="2.75"/><circle cx="268.8" cy="551.4" r="2.75"/><circle cx="270.2" cy="538.8" r="2.75"/><circle cx="271.5" cy="549.5" r="2.75"/><circle cx="272.9" cy="543.2" r="2.75"/><circle cx="274.3" cy="546.5" r="2.75"/><circle cx="275.6" cy="541.7" r="2.75"/><circle cx="277.0" cy="556.8" r="2.75"/><circle cx="278.3" cy="537.4" r="2.75"/><circle cx="279.7" cy="555.4" r="2.75"/><circle cx="281.1" cy="556.2" r="2.75"/><circle cx="282.4" cy="544.4" r="2.75"/><circle cx="283.8" cy="540.9" r="2.75"/><circle cx="285.1" cy="550.6" r="2.75"/><circle cx="286.5" cy="543.1" r="2.75"/><circle cx="287.9" cy="533.5" r="2.75"/><circle cx="289.2" cy="542.6" r="2.75"/><circle cx="290.6" cy="543.0" r="2.75"/><circle cx="292.0" cy="551.7" r="2.75"/><circle cx="293.3" cy="545.2" r="2.75"/><circle cx="294.7" cy="543.4" r="2.75"/><circle cx="296.0" cy="536.3" r="2.75"/><circle cx="297.4" cy="557.5" r="2.75"/><circle cx="298.8" cy="547.1" r="2.75"/><circle cx="300.1" cy="535.0" r="2.75"/><circle cx="301.5" cy="546.6" r="2.75"/><circle cx="302.8" cy="541.6" r="2.75"/><circle cx="304.2" cy="541.8" r="2.75"/><circle cx="305.6" cy="543.4" r="2.75"/><circle cx="306.9" cy="547.8" r="2.75"/><circle cx="308.3" cy="533.6" r="2.75"/><circle cx="309.6" cy="551.5" r="2.75"/><circle cx="311.0" cy="546.4" r="2.75"/><circle cx="312.4" cy="546.8" r="2.75"/><circle cx="313.7" cy="551.2" r="2.75"/><circle cx="315.1" cy="540.5" r="2.75"/><circle cx="316.4" cy="548.6" r="2.75"/><circle cx="317.8" cy="543.8" r="2.75"/><circle cx="319.2" cy="538.1" r="2.75"/><circle cx="320.5" cy="537.0" r="2.75"/><circle cx="321.9" cy="527.8" r="2.75"/><circle cx="323.2" cy="544.7" r="2.75"/><circle cx="324.6" cy="533.9" r="2.75"/><circle cx="326.0" cy="541.6" r="2.75"/><circle cx="327.3" cy="543.1" r="2.75"/><circle cx="328.7" cy="534.7" r="2.75"/><circle cx="330.0" cy="537.1" r="2.75"/><circle cx="331.4" cy="530.3" r="2.75"/><circle cx="332.8" cy="533.2" r="2.75"/><circle cx="334.1" cy="536.6" r="2.75"/><circle cx="335.5" cy="525.2" r="2.75"/><circle cx="336.8" cy="532.7" r="2.75"/><circle cx="338.2" cy="527.7" r="2.75"/><circle cx="339.6" cy="526.7" r="2.75"/><circle cx="340.9" cy="520.4" r="2.75"/><circle cx="342.3" cy="509.6" r="2.75"/><circle cx="343.6" cy="512.8" r="2.75"/><circle cx="345.0" cy="500.3" r="2.75"/><circle cx="346.4" cy="493.2" r="2.75"/><circle cx="347.7" cy="486.4" r="2.75"/><circle cx="349.1" cy="481.8" r="2.75"/><circle cx="350.4" cy="492.8" r="2.75"/><circle cx="351.8" cy="504.6" r="2.75"/><circle cx="353.2" cy="509.0" r="2.75"/><circle cx="354.5" cy="508.8" r="2.75"/><circle cx="355.9" cy="513.7" r="2.75"/><circle cx="357.3" cy="519.2" r="2.75"/><circle cx="358.6" cy="527.4" r="2.75"/><circle cx="360.0" cy="523.3" r="2.75"/><circle cx="361.3" cy="531.8" r="2.75"/><circle cx="362.7" cy="534.0" r="2.75"/><circle cx="364.1" cy="535.4" r="2.75"/><circle cx="365.4" cy="535.0" r="2.75"/><circle cx="366.8" cy="532.4" r="2.75"/><circle cx="368.1" cy="533.9" r="2.75"/><circle cx="369.5" cy="535.2" r="2.75"/><circle cx="370.9" cy="547.7" r="2.75"/><circle cx="372.2" cy="541.7" r="2.75"/><circle cx="373.6" cy="542.0" r="2.75"/><circle cx="374.9" cy="538.5" r="2.75"/><circle cx="376.3" cy="536.6" r="2.75"/><circle cx="377.7" cy="542.0" r="2.75"/><circle cx="379.0" cy="537.1" r="2.75"/><circle cx="380.4" cy="547.0" r="2.75"/><circle cx="381.7" cy="543.4" r="2.75"/><circle cx="383.1" cy="542.1" r="2.75"/><circle cx="384.5" cy="549.0" r="2.75"/><circle cx="385.8" cy="552.8" r="2.75"/><circle cx="387.2" cy="544.3" r="2.75"/><circle cx="388.5" cy="543.5" r="2.75"/><circle cx="389.9" cy="542.2" r="2.75"/><circle cx="391.3" cy="548.7" r="2.75"/><circle cx="392.6" cy="546.1" r="2.75"/><circle cx="394.0" cy="534.2" r="2.75"/><circle cx="395.3" cy="551.6" r="2.75"/><circle cx="396.7" cy="544.2" r="2.75"/><circle cx="398.1" cy="548.6" r="2.75"/><circle cx="399.4" cy="548.7" r="2.75"/><circle cx="400.8" cy="547.8" r="2.75"/><circle cx="402.1" cy="552.0" r="2.75"/><circle cx="403.5" cy="545.8" r="2.75"/><circle cx="404.9" cy="539.3" r="2.75"/><circle cx="406.2" cy="543.7" r="2.75"/><circle cx="407.6" cy="551.5" r="2.75"/><circle cx="408.9" cy="542.0" r="2.75"/><circle cx="410.3" cy="551.9" r="2.75"/><circle cx="411.7" cy="549.7" r="2.75"/><circle cx="413.0" cy="556.4" r="2.75"/><circle cx="414.4" cy="557.4" r="2.75"/><circle cx="415.7" cy="552.8" r="2.75"/><circle cx="417.1" cy="541.6" r="2.75"/><circle cx="418.5" cy="546.0" r="2.75"/><circle cx="419.8" cy="544.9" r="2.75"/><circle cx="421.2" cy="551.1" r="2.75"/><circle cx="422.6" cy="547.8" r="2.75"/><circle cx="423.9" cy="546.2" r="2.75"/><circle cx="425.3" cy="552.6" r="2.75"/><circle cx="426.6" cy="553.1" r="2.75"/><circle cx="428.0" cy="543.0" r="2.75"/><circle cx="429.4" cy="555.6" r="2.75"/><circle cx="430.7" cy="546.8" r="2.75"/><circle cx="432.1" cy="540.2" r="2.75"/><circle cx="433.4" cy="549.1" r="2.75"/><circle cx="434.8" cy="549.3" r="2.75"/><circle cx="436.2" cy="561.9" r="2.75"/><circle cx="437.5" cy="547.7" r="2.75"/><circle cx="438.9" cy="536.6" r="2.75"/><circle cx="440.2" cy="546.1" r="2.75"/><circle cx="441.6" cy="552.0" r="2.75"/><circle cx="443.0" cy="547.4" r="2.75"/><circle cx="444.3" cy="547.1" r="2.75"/><circle cx="445.7" cy="548.8" r="2.75"/><circle cx="447.0" cy="540.2" r="2.75"/><circle cx="448.4" cy="538.3" r="2.75"/></g><g fill="#dc5027" stroke="#c44a2a" stroke-width="0.5"><circle cx="259.3" cy="551.0" r="2.75"/><circle cx="260.7" cy="551.5" r="2.75"/><circle cx="262.0" cy="536.1" r="2.75"/><circle cx="263.4" cy="543.8" r="2.75"/><circle cx="264.7" cy="540.7" r="2.75"/><circle cx="266.1" cy="541.3" r="2.75"/><circle cx="267.5" cy="541.0" r="2.75"/><circle cx="268.8" cy="541.6" r="2.75"/><circle cx="270.2" cy="534.9" r="2.75"/><circle cx="271.5" cy="542.0" r="2.75"/><circle cx="272.9" cy="542.4" r="2.75"/><circle cx="274.3" cy="543.4" r="2.75"/><circle cx="275.6" cy="540.4" r="2.75"/><circle cx="277.0" cy="542.7" r="2.75"/><circle cx="278.3" cy="541.6" r="2.75"/><circle cx="279.7" cy="541.9" r="2.75"/><circle cx="281.1" cy="538.1" r="2.75"/><circle cx="282.4" cy="539.6" r="2.75"/><circle cx="283.8" cy="539.0" r="2.75"/><circle cx="285.1" cy="536.0" r="2.75"/><circle cx="286.5" cy="548.7" r="2.75"/><circle cx="287.9" cy="542.1" r="2.75"/><circle cx="289.2" cy="547.3" r="2.75"/><circle cx="290.6" cy="543.2" r="2.75"/><circle cx="292.0" cy="544.8" r="2.75"/><circle cx="293.3" cy="542.9" r="2.75"/><circle cx="294.7" cy="541.0" r="2.75"/><circle cx="296.0" cy="543.3" r="2.75"/><circle cx="297.4" cy="541.7" r="2.75"/><circle cx="298.8" cy="545.9" r="2.75"/><circle cx="300.1" cy="539.9" r="2.75"/><circle cx="301.5" cy="542.2" r="2.75"/><circle cx="302.8" cy="538.1" r="2.75"/><circle cx="304.2" cy="531.6" r="2.75"/><circle cx="305.6" cy="534.6" r="2.75"/><circle cx="306.9" cy="543.7" r="2.75"/><circle cx="308.3" cy="541.1" r="2.75"/><circle cx="309.6" cy="540.6" r="2.75"/><circle cx="311.0" cy="542.9" r="2.75"/><circle cx="312.4" cy="542.4" r="2.75"/><circle cx="313.7" cy="533.9" r="2.75"/><circle cx="315.1" cy="531.7" r="2.75"/><circle cx="316.4" cy="535.5" r="2.75"/><circle cx="317.8" cy="534.2" r="2.75"/><circle cx="319.2" cy="527.6" r="2.75"/><circle cx="320.5" cy="531.9" r="2.75"/><circle cx="321.9" cy="533.4" r="2.75"/><circle cx="323.2" cy="529.5" r="2.75"/><circle cx="324.6" cy="523.5" r="2.75"/><circle cx="326.0" cy="527.9" r="2.75"/><circle cx="327.3" cy="524.4" r="2.75"/><circle cx="328.7" cy="518.1" r="2.75"/><circle cx="330.0" cy="520.2" r="2.75"/><circle cx="331.4" cy="506.3" r="2.75"/><circle cx="332.8" cy="507.9" r="2.75"/><circle cx="334.1" cy="505.2" r="2.75"/><circle cx="335.5" cy="492.4" r="2.75"/><circle cx="336.8" cy="484.0" r="2.75"/><circle cx="338.2" cy="470.7" r="2.75"/><circle cx="339.6" cy="475.9" r="2.75"/><circle cx="340.9" cy="460.2" r="2.75"/><circle cx="342.3" cy="462.0" r="2.75"/><circle cx="343.6" cy="461.0" r="2.75"/><circle cx="345.0" cy="450.8" r="2.75"/><circle cx="346.4" cy="440.3" r="2.75"/><circle cx="347.7" cy="433.9" r="2.75"/><circle cx="349.1" cy="437.8" r="2.75"/><circle cx="350.4" cy="443.8" r="2.75"/><circle cx="351.8" cy="442.5" r="2.75"/><circle cx="353.2" cy="449.3" r="2.75"/><circle cx="354.5" cy="457.9" r="2.75"/><circle cx="355.9" cy="464.0" r="2.75"/><circle cx="357.3" cy="465.9" r="2.75"/><circle cx="358.6" cy="480.7" r="2.75"/><circle cx="360.0" cy="495.9" r="2.75"/><circle cx="361.3" cy="493.0" r="2.75"/><circle cx="362.7" cy="512.8" r="2.75"/><circle cx="364.1" cy="520.5" r="2.75"/><circle cx="365.4" cy="514.6" r="2.75"/><circle cx="366.8" cy="535.7" r="2.75"/><circle cx="368.1" cy="522.1" r="2.75"/><circle cx="369.5" cy="536.2" r="2.75"/><circle cx="370.9" cy="532.6" r="2.75"/><circle cx="372.2" cy="539.1" r="2.75"/><circle cx="373.6" cy="527.2" r="2.75"/><circle cx="374.9" cy="526.7" r="2.75"/><circle cx="376.3" cy="529.9" r="2.75"/><circle cx="377.7" cy="522.6" r="2.75"/><circle cx="379.0" cy="527.8" r="2.75"/><circle cx="380.4" cy="543.8" r="2.75"/><circle cx="381.7" cy="531.7" r="2.75"/><circle cx="383.1" cy="527.0" r="2.75"/><circle cx="384.5" cy="537.2" r="2.75"/><circle cx="385.8" cy="539.4" r="2.75"/><circle cx="387.2" cy="536.8" r="2.75"/><circle cx="388.5" cy="538.6" r="2.75"/><circle cx="389.9" cy="534.2" r="2.75"/><circle cx="391.3" cy="544.6" r="2.75"/><circle cx="392.6" cy="541.3" r="2.75"/><circle cx="394.0" cy="545.6" r="2.75"/><circle cx="395.3" cy="538.6" r="2.75"/><circle cx="396.7" cy="539.5" r="2.75"/><circle cx="398.1" cy="542.1" r="2.75"/><circle cx="399.4" cy="539.2" r="2.75"/><circle cx="400.8" cy="541.8" r="2.75"/><circle cx="402.1" cy="538.3" r="2.75"/><circle cx="403.5" cy="537.2" r="2.75"/><circle cx="404.9" cy="530.5" r="2.75"/><circle cx="406.2" cy="539.4" r="2.75"/><circle cx="407.6" cy="543.0" r="2.75"/><circle cx="408.9" cy="544.1" r="2.75"/><circle cx="410.3" cy="540.9" r="2.75"/><circle cx="411.7" cy="530.5" r="2.75"/><circle cx="413.0" cy="540.2" r="2.75"/><circle cx="414.4" cy="541.0" r="2.75"/><circle cx="415.7" cy="538.7" r="2.75"/><circle cx="417.1" cy="549.4" r="2.75"/><circle cx="418.5" cy="539.8" r="2.75"/><circle cx="419.8" cy="540.0" r="2.75"/><circle cx="421.2" cy="544.4" r="2.75"/><circle cx="422.6" cy="541.6" r="2.75"/><circle cx="423.9" cy="539.5" r="2.75"/><circle cx="425.3" cy="545.3" r="2.75"/><circle cx="426.6" cy="534.9" r="2.75"/><circle cx="428.0" cy="536.8" r="2.75"/><circle cx="429.4" cy="552.3" r="2.75"/><circle cx="430.7" cy="543.2" r="2.75"/><circle cx="432.1" cy="539.9" r="2.75"/><circle cx="433.4" cy="537.7" r="2.75"/><circle cx="434.8" cy="534.5" r="2.75"/><circle cx="436.2" cy="537.7" r="2.75"/><circle cx="437.5" cy="545.9" r="2.75"/><circle cx="438.9" cy="541.4" r="2.75"/><circle cx="440.2" cy="536.0" r="2.75"/><circle cx="441.6" cy="545.2" r="2.75"/><circle cx="443.0" cy="551.1" r="2.75"/><circle cx="444.3" cy="537.7" r="2.75"/><circle cx="445.7" cy="545.5" r="2.75"/><circle cx="447.0" cy="549.2" r="2.75"/><circle cx="448.4" cy="545.6" r="2.75"/></g></g><rect x="258.8" y="397.0" width="190.09999999999997" height="164.5" fill="none" stroke="#404040" stroke-width="1"/><line x1="277.8" y1="561.5" x2="277.8" y2="559.5" stroke="#404040" stroke-width="1"/><line x1="277.8" y1="397.0" x2="277.8" y2="399.0" stroke="#404040" stroke-width="1"/><line x1="372.9" y1="561.5" x2="372.9" y2="559.5" stroke="#404040" stroke-width="1"/><line x1="372.9" y1="397.0" x2="372.9" y2="399.0" stroke="#404040" stroke-width="1"/><line x1="258.8" y1="470.7" x2="260.8" y2="470.7" stroke="#404040" stroke-width="1"/><line x1="448.9" y1="470.7" x2="446.9" y2="470.7" stroke="#404040" stroke-width="1"/><text x="284.4" y="572.2" text-anchor="middle" class="t">1.105</text><text x="378.2" y="572.2" text-anchor="middle" class="t">1.11</text><text x="354.1" y="582.2" text-anchor="middle" class="t" style="font-size:9.9px">Energy (eV)</text><text x="254.8" y="408.2" text-anchor="end" class="t">2</text><text x="254.8" y="553.2" text-anchor="end" class="t">0</text><text transform="translate(247.2,478.0) rotate(-90)" text-anchor="middle" class="t">PL (cts/s/nW)</text><text x="233.8" y="399.0" class="lt">f</text><text x="440.9" y="412.3" text-anchor="end" class="an">D/ε<tspan font-size="6" dy="3.4">0</tspan><tspan dy="-3.4"> = 0 V/nm</tspan></text><text x="440.9" y="425.8" text-anchor="end" class="an">= -2/3</text><g transform="translate(414.5,425.8)" fill="none" stroke="#262626" stroke-linecap="round"><path d="M-7.3 -6.2 L-4.6 -6.2" stroke-width="0.8"/><path d="M-5.4 -6.1 L-6.6 -0.5" stroke-width="1.3"/><path d="M-6.5 -0.4 Q-3.5 -1.8 -0.8 -6.0" stroke-width="0.9"/></g><clipPath id="cpg"><rect x="492.7" y="5.5" width="189.7" height="169.9"/></clipPath><g clip-path="url(#cpg)"><g fill="#3874bc" stroke="#3468a8" stroke-width="0.5"><circle cx="493.2" cy="150.3" r="2.75"/><circle cx="494.6" cy="161.7" r="2.75"/><circle cx="495.9" cy="165.7" r="2.75"/><circle cx="497.3" cy="155.4" r="2.75"/><circle cx="498.6" cy="170.0" r="2.75"/><circle cx="500.0" cy="163.1" r="2.75"/><circle cx="501.3" cy="163.7" r="2.75"/><circle cx="502.7" cy="162.0" r="2.75"/><circle cx="504.1" cy="160.5" r="2.75"/><circle cx="505.4" cy="158.7" r="2.75"/><circle cx="506.8" cy="157.5" r="2.75"/><circle cx="508.1" cy="154.7" r="2.75"/><circle cx="509.5" cy="155.9" r="2.75"/><circle cx="510.8" cy="158.0" r="2.75"/><circle cx="512.2" cy="157.8" r="2.75"/><circle cx="513.6" cy="153.0" r="2.75"/><circle cx="514.9" cy="167.2" r="2.75"/><circle cx="516.3" cy="157.0" r="2.75"/><circle cx="517.6" cy="169.8" r="2.75"/><circle cx="519.0" cy="160.6" r="2.75"/><circle cx="520.4" cy="159.2" r="2.75"/><circle cx="521.7" cy="162.0" r="2.75"/><circle cx="523.1" cy="146.9" r="2.75"/><circle cx="524.4" cy="165.7" r="2.75"/><circle cx="525.8" cy="161.5" r="2.75"/><circle cx="527.1" cy="161.6" r="2.75"/><circle cx="528.5" cy="156.5" r="2.75"/><circle cx="529.9" cy="163.1" r="2.75"/><circle cx="531.2" cy="156.2" r="2.75"/><circle cx="532.6" cy="153.3" r="2.75"/><circle cx="533.9" cy="154.4" r="2.75"/><circle cx="535.3" cy="156.1" r="2.75"/><circle cx="536.6" cy="160.0" r="2.75"/><circle cx="538.0" cy="156.3" r="2.75"/><circle cx="539.4" cy="161.6" r="2.75"/><circle cx="540.7" cy="160.9" r="2.75"/><circle cx="542.1" cy="160.0" r="2.75"/><circle cx="543.4" cy="154.4" r="2.75"/><circle cx="544.8" cy="151.4" r="2.75"/><circle cx="546.1" cy="155.8" r="2.75"/><circle cx="547.5" cy="162.6" r="2.75"/><circle cx="548.9" cy="159.1" r="2.75"/><circle cx="550.2" cy="154.1" r="2.75"/><circle cx="551.6" cy="155.7" r="2.75"/><circle cx="552.9" cy="149.5" r="2.75"/><circle cx="554.3" cy="150.4" r="2.75"/><circle cx="555.6" cy="150.0" r="2.75"/><circle cx="557.0" cy="151.2" r="2.75"/><circle cx="558.4" cy="144.1" r="2.75"/><circle cx="559.7" cy="143.7" r="2.75"/><circle cx="561.1" cy="142.5" r="2.75"/><circle cx="562.4" cy="144.2" r="2.75"/><circle cx="563.8" cy="142.0" r="2.75"/><circle cx="565.2" cy="129.8" r="2.75"/><circle cx="566.5" cy="140.9" r="2.75"/><circle cx="567.9" cy="140.7" r="2.75"/><circle cx="569.2" cy="136.3" r="2.75"/><circle cx="570.6" cy="122.8" r="2.75"/><circle cx="571.9" cy="134.3" r="2.75"/><circle cx="573.3" cy="132.7" r="2.75"/><circle cx="574.7" cy="133.3" r="2.75"/><circle cx="576.0" cy="121.1" r="2.75"/><circle cx="577.4" cy="120.2" r="2.75"/><circle cx="578.7" cy="108.1" r="2.75"/><circle cx="580.1" cy="109.3" r="2.75"/><circle cx="581.4" cy="108.7" r="2.75"/><circle cx="582.8" cy="101.7" r="2.75"/><circle cx="584.2" cy="104.5" r="2.75"/><circle cx="585.5" cy="86.5" r="2.75"/><circle cx="586.9" cy="102.6" r="2.75"/><circle cx="588.2" cy="104.6" r="2.75"/><circle cx="589.6" cy="92.1" r="2.75"/><circle cx="590.9" cy="101.2" r="2.75"/><circle cx="592.3" cy="94.6" r="2.75"/><circle cx="593.7" cy="110.7" r="2.75"/><circle cx="595.0" cy="112.9" r="2.75"/><circle cx="596.4" cy="115.8" r="2.75"/><circle cx="597.7" cy="107.9" r="2.75"/><circle cx="599.1" cy="121.4" r="2.75"/><circle cx="600.4" cy="126.2" r="2.75"/><circle cx="601.8" cy="126.6" r="2.75"/><circle cx="603.2" cy="127.2" r="2.75"/><circle cx="604.5" cy="123.5" r="2.75"/><circle cx="605.9" cy="135.6" r="2.75"/><circle cx="607.2" cy="135.5" r="2.75"/><circle cx="608.6" cy="149.4" r="2.75"/><circle cx="609.9" cy="140.8" r="2.75"/><circle cx="611.3" cy="146.8" r="2.75"/><circle cx="612.7" cy="151.9" r="2.75"/><circle cx="614.0" cy="153.9" r="2.75"/><circle cx="615.4" cy="147.3" r="2.75"/><circle cx="616.7" cy="151.9" r="2.75"/><circle cx="618.1" cy="153.0" r="2.75"/><circle cx="619.5" cy="166.2" r="2.75"/><circle cx="620.8" cy="150.5" r="2.75"/><circle cx="622.2" cy="158.6" r="2.75"/><circle cx="623.5" cy="159.3" r="2.75"/><circle cx="624.9" cy="155.8" r="2.75"/><circle cx="626.2" cy="155.9" r="2.75"/><circle cx="627.6" cy="158.5" r="2.75"/><circle cx="629.0" cy="153.4" r="2.75"/><circle cx="630.3" cy="160.8" r="2.75"/><circle cx="631.7" cy="158.0" r="2.75"/><circle cx="633.0" cy="160.7" r="2.75"/><circle cx="634.4" cy="146.8" r="2.75"/><circle cx="635.7" cy="167.7" r="2.75"/><circle cx="637.1" cy="154.6" r="2.75"/><circle cx="638.5" cy="160.9" r="2.75"/><circle cx="639.8" cy="158.7" r="2.75"/><circle cx="641.2" cy="155.8" r="2.75"/><circle cx="642.5" cy="160.2" r="2.75"/><circle cx="643.9" cy="154.6" r="2.75"/><circle cx="645.2" cy="162.9" r="2.75"/><circle cx="646.6" cy="161.7" r="2.75"/><circle cx="648.0" cy="153.8" r="2.75"/><circle cx="649.3" cy="159.8" r="2.75"/><circle cx="650.7" cy="162.5" r="2.75"/><circle cx="652.0" cy="158.9" r="2.75"/><circle cx="653.4" cy="156.5" r="2.75"/><circle cx="654.7" cy="156.1" r="2.75"/><circle cx="656.1" cy="169.9" r="2.75"/><circle cx="657.5" cy="165.7" r="2.75"/><circle cx="658.8" cy="151.8" r="2.75"/><circle cx="660.2" cy="161.4" r="2.75"/><circle cx="661.5" cy="152.7" r="2.75"/><circle cx="662.9" cy="158.5" r="2.75"/><circle cx="664.3" cy="158.7" r="2.75"/><circle cx="665.6" cy="153.3" r="2.75"/><circle cx="667.0" cy="158.4" r="2.75"/><circle cx="668.3" cy="151.2" r="2.75"/><circle cx="669.7" cy="158.2" r="2.75"/><circle cx="671.0" cy="160.5" r="2.75"/><circle cx="672.4" cy="165.2" r="2.75"/><circle cx="673.8" cy="164.3" r="2.75"/><circle cx="675.1" cy="164.6" r="2.75"/><circle cx="676.5" cy="151.1" r="2.75"/><circle cx="677.8" cy="157.7" r="2.75"/><circle cx="679.2" cy="162.0" r="2.75"/><circle cx="680.5" cy="155.1" r="2.75"/><circle cx="681.9" cy="162.6" r="2.75"/></g><g fill="#dc5027" stroke="#c44a2a" stroke-width="0.5"><circle cx="493.2" cy="156.0" r="2.75"/><circle cx="494.6" cy="161.0" r="2.75"/><circle cx="495.9" cy="163.3" r="2.75"/><circle cx="497.3" cy="162.0" r="2.75"/><circle cx="498.6" cy="162.2" r="2.75"/><circle cx="500.0" cy="150.7" r="2.75"/><circle cx="501.3" cy="161.1" r="2.75"/><circle cx="502.7" cy="154.4" r="2.75"/><circle cx="504.1" cy="166.2" r="2.75"/><circle cx="505.4" cy="159.0" r="2.75"/><circle cx="506.8" cy="151.1" r="2.75"/><circle cx="508.1" cy="156.7" r="2.75"/><circle cx="509.5" cy="157.5" r="2.75"/><circle cx="510.8" cy="155.5" r="2.75"/><circle cx="512.2" cy="163.9" r="2.75"/><circle cx="513.6" cy="159.7" r="2.75"/><circle cx="514.9" cy="161.8" r="2.75"/><circle cx="516.3" cy="162.6" r="2.75"/><circle cx="517.6" cy="159.4" r="2.75"/><circle cx="519.0" cy="160.3" r="2.75"/><circle cx="520.4" cy="150.6" r="2.75"/><circle cx="521.7" cy="153.5" r="2.75"/><circle cx="523.1" cy="164.8" r="2.75"/><circle cx="524.4" cy="164.3" r="2.75"/><circle cx="525.8" cy="161.0" r="2.75"/><circle cx="527.1" cy="155.0" r="2.75"/><circle cx="528.5" cy="160.2" r="2.75"/><circle cx="529.9" cy="162.3" r="2.75"/><circle cx="531.2" cy="161.3" r="2.75"/><circle cx="532.6" cy="153.5" r="2.75"/><circle cx="533.9" cy="158.9" r="2.75"/><circle cx="535.3" cy="147.1" r="2.75"/><circle cx="536.6" cy="152.4" r="2.75"/><circle cx="538.0" cy="159.2" r="2.75"/><circle cx="539.4" cy="155.9" r="2.75"/><circle cx="540.7" cy="165.1" r="2.75"/><circle cx="542.1" cy="160.4" r="2.75"/><circle cx="543.4" cy="155.4" r="2.75"/><circle cx="544.8" cy="157.8" r="2.75"/><circle cx="546.1" cy="164.1" r="2.75"/><circle cx="547.5" cy="149.3" r="2.75"/><circle cx="548.9" cy="157.4" r="2.75"/><circle cx="550.2" cy="151.2" r="2.75"/><circle cx="551.6" cy="153.9" r="2.75"/><circle cx="552.9" cy="148.0" r="2.75"/><circle cx="554.3" cy="143.7" r="2.75"/><circle cx="555.6" cy="146.5" r="2.75"/><circle cx="557.0" cy="137.3" r="2.75"/><circle cx="558.4" cy="143.4" r="2.75"/><circle cx="559.7" cy="147.0" r="2.75"/><circle cx="561.1" cy="147.9" r="2.75"/><circle cx="562.4" cy="133.2" r="2.75"/><circle cx="563.8" cy="142.1" r="2.75"/><circle cx="565.2" cy="131.3" r="2.75"/><circle cx="566.5" cy="141.1" r="2.75"/><circle cx="567.9" cy="138.9" r="2.75"/><circle cx="569.2" cy="127.7" r="2.75"/><circle cx="570.6" cy="124.6" r="2.75"/><circle cx="571.9" cy="126.5" r="2.75"/><circle cx="573.3" cy="126.7" r="2.75"/><circle cx="574.7" cy="119.5" r="2.75"/><circle cx="576.0" cy="119.2" r="2.75"/><circle cx="577.4" cy="118.4" r="2.75"/><circle cx="578.7" cy="114.1" r="2.75"/><circle cx="580.1" cy="97.7" r="2.75"/><circle cx="581.4" cy="101.8" r="2.75"/><circle cx="582.8" cy="102.6" r="2.75"/><circle cx="584.2" cy="101.7" r="2.75"/><circle cx="585.5" cy="86.6" r="2.75"/><circle cx="586.9" cy="82.1" r="2.75"/><circle cx="588.2" cy="89.0" r="2.75"/><circle cx="589.6" cy="86.6" r="2.75"/><circle cx="590.9" cy="101.2" r="2.75"/><circle cx="592.3" cy="91.2" r="2.75"/><circle cx="593.7" cy="105.1" r="2.75"/><circle cx="595.0" cy="103.0" r="2.75"/><circle cx="596.4" cy="122.3" r="2.75"/><circle cx="597.7" cy="123.5" r="2.75"/><circle cx="599.1" cy="114.9" r="2.75"/><circle cx="600.4" cy="116.5" r="2.75"/><circle cx="601.8" cy="128.4" r="2.75"/><circle cx="603.2" cy="111.1" r="2.75"/><circle cx="604.5" cy="136.1" r="2.75"/><circle cx="605.9" cy="128.9" r="2.75"/><circle cx="607.2" cy="132.6" r="2.75"/><circle cx="608.6" cy="149.9" r="2.75"/><circle cx="609.9" cy="145.7" r="2.75"/><circle cx="611.3" cy="150.0" r="2.75"/><circle cx="612.7" cy="140.7" r="2.75"/><circle cx="614.0" cy="151.9" r="2.75"/><circle cx="615.4" cy="151.2" r="2.75"/><circle cx="616.7" cy="153.9" r="2.75"/><circle cx="618.1" cy="159.3" r="2.75"/><circle cx="619.5" cy="154.4" r="2.75"/><circle cx="620.8" cy="161.9" r="2.75"/><circle cx="622.2" cy="162.1" r="2.75"/><circle cx="623.5" cy="156.0" r="2.75"/><circle cx="624.9" cy="148.5" r="2.75"/><circle cx="626.2" cy="160.2" r="2.75"/><circle cx="627.6" cy="157.2" r="2.75"/><circle cx="629.0" cy="154.1" r="2.75"/><circle cx="630.3" cy="158.4" r="2.75"/><circle cx="631.7" cy="157.5" r="2.75"/><circle cx="633.0" cy="159.6" r="2.75"/><circle cx="634.4" cy="153.6" r="2.75"/><circle cx="635.7" cy="156.0" r="2.75"/><circle cx="637.1" cy="168.2" r="2.75"/><circle cx="638.5" cy="159.7" r="2.75"/><circle cx="639.8" cy="158.2" r="2.75"/><circle cx="641.2" cy="155.5" r="2.75"/><circle cx="642.5" cy="153.9" r="2.75"/><circle cx="643.9" cy="152.7" r="2.75"/><circle cx="645.2" cy="152.4" r="2.75"/><circle cx="646.6" cy="153.5" r="2.75"/><circle cx="648.0" cy="160.7" r="2.75"/><circle cx="649.3" cy="155.4" r="2.75"/><circle cx="650.7" cy="161.3" r="2.75"/><circle cx="652.0" cy="164.4" r="2.75"/><circle cx="653.4" cy="161.6" r="2.75"/><circle cx="654.7" cy="157.3" r="2.75"/><circle cx="656.1" cy="147.3" r="2.75"/><circle cx="657.5" cy="160.0" r="2.75"/><circle cx="658.8" cy="153.4" r="2.75"/><circle cx="660.2" cy="163.6" r="2.75"/><circle cx="661.5" cy="154.8" r="2.75"/><circle cx="662.9" cy="158.0" r="2.75"/><circle cx="664.3" cy="157.3" r="2.75"/><circle cx="665.6" cy="155.5" r="2.75"/><circle cx="667.0" cy="155.1" r="2.75"/><circle cx="668.3" cy="149.8" r="2.75"/><circle cx="669.7" cy="162.8" r="2.75"/><circle cx="671.0" cy="155.2" r="2.75"/><circle cx="672.4" cy="164.0" r="2.75"/><circle cx="673.8" cy="159.0" r="2.75"/><circle cx="675.1" cy="157.2" r="2.75"/><circle cx="676.5" cy="161.4" r="2.75"/><circle cx="677.8" cy="158.6" r="2.75"/><circle cx="679.2" cy="162.1" r="2.75"/><circle cx="680.5" cy="156.6" r="2.75"/><circle cx="681.9" cy="158.7" r="2.75"/></g></g><rect x="492.7" y="8.5" width="189.7" height="163.9" fill="none" stroke="#404040" stroke-width="1"/><line x1="511.7" y1="172.4" x2="511.7" y2="170.4" stroke="#404040" stroke-width="1"/><line x1="511.7" y1="8.5" x2="511.7" y2="10.5" stroke="#404040" stroke-width="1"/><line x1="606.5" y1="172.4" x2="606.5" y2="170.4" stroke="#404040" stroke-width="1"/><line x1="606.5" y1="8.5" x2="606.5" y2="10.5" stroke="#404040" stroke-width="1"/><line x1="492.7" y1="83.3" x2="494.7" y2="83.3" stroke="#404040" stroke-width="1"/><line x1="682.4" y1="83.3" x2="680.4" y2="83.3" stroke="#404040" stroke-width="1"/><text x="518.3" y="183.1" text-anchor="middle" class="t">1.105</text><text x="612.1" y="183.1" text-anchor="middle" class="t">1.11</text><text x="588.1" y="193.1" text-anchor="middle" class="t" style="font-size:9.9px">Energy (eV)</text><text x="487.2" y="18.9" text-anchor="end" class="t">2</text><text x="487.2" y="160.2" text-anchor="end" class="t">0</text><text transform="translate(479.2,87.3) rotate(-90)" text-anchor="middle" class="t">PL (cts/s/nW)</text><text x="466.2" y="10.5" class="lt">g</text><text x="675.2" y="23.8" text-anchor="end" class="an">D/ε<tspan font-size="6" dy="3.4">0</tspan><tspan dy="-3.4"> = 0.052 V/nm</tspan></text><text x="675.2" y="38.3" text-anchor="end" class="an">= -1/2</text><g transform="translate(648.8,38.3)" fill="none" stroke="#262626" stroke-linecap="round"><path d="M-7.3 -6.2 L-4.6 -6.2" stroke-width="0.8"/><path d="M-5.4 -6.1 L-6.6 -0.5" stroke-width="1.3"/><path d="M-6.5 -0.4 Q-3.5 -1.8 -0.8 -6.0" stroke-width="0.9"/></g><clipPath id="cph"><rect x="492.7" y="199.8" width="189.7" height="170.5"/></clipPath><g clip-path="url(#cph)"><g fill="#3874bc" stroke="#3468a8" stroke-width="0.5"><circle cx="493.2" cy="361.2" r="2.75"/><circle cx="494.6" cy="358.8" r="2.75"/><circle cx="495.9" cy="363.8" r="2.75"/><circle cx="497.3" cy="358.1" r="2.75"/><circle cx="498.6" cy="357.2" r="2.75"/><circle cx="500.0" cy="356.1" r="2.75"/><circle cx="501.3" cy="362.8" r="2.75"/><circle cx="502.7" cy="360.7" r="2.75"/><circle cx="504.1" cy="359.6" r="2.75"/><circle cx="505.4" cy="356.0" r="2.75"/><circle cx="506.8" cy="361.2" r="2.75"/><circle cx="508.1" cy="359.5" r="2.75"/><circle cx="509.5" cy="359.3" r="2.75"/><circle cx="510.8" cy="360.1" r="2.75"/><circle cx="512.2" cy="359.1" r="2.75"/><circle cx="513.6" cy="360.1" r="2.75"/><circle cx="514.9" cy="359.3" r="2.75"/><circle cx="516.3" cy="357.2" r="2.75"/><circle cx="517.6" cy="362.5" r="2.75"/><circle cx="519.0" cy="361.1" r="2.75"/><circle cx="520.4" cy="359.4" r="2.75"/><circle cx="521.7" cy="359.8" r="2.75"/><circle cx="523.1" cy="358.3" r="2.75"/><circle cx="524.4" cy="362.3" r="2.75"/><circle cx="525.8" cy="352.9" r="2.75"/><circle cx="527.1" cy="358.8" r="2.75"/><circle cx="528.5" cy="362.6" r="2.75"/><circle cx="529.9" cy="357.5" r="2.75"/><circle cx="531.2" cy="357.8" r="2.75"/><circle cx="532.6" cy="359.3" r="2.75"/><circle cx="533.9" cy="362.7" r="2.75"/><circle cx="535.3" cy="359.5" r="2.75"/><circle cx="536.6" cy="356.9" r="2.75"/><circle cx="538.0" cy="361.5" r="2.75"/><circle cx="539.4" cy="362.0" r="2.75"/><circle cx="540.7" cy="359.4" r="2.75"/><circle cx="542.1" cy="362.2" r="2.75"/><circle cx="543.4" cy="358.4" r="2.75"/><circle cx="544.8" cy="358.6" r="2.75"/><circle cx="546.1" cy="353.0" r="2.75"/><circle cx="547.5" cy="363.7" r="2.75"/><circle cx="548.9" cy="359.2" r="2.75"/><circle cx="550.2" cy="357.9" r="2.75"/><circle cx="551.6" cy="359.9" r="2.75"/><circle cx="552.9" cy="359.4" r="2.75"/><circle cx="554.3" cy="356.8" r="2.75"/><circle cx="555.6" cy="360.0" r="2.75"/><circle cx="557.0" cy="357.4" r="2.75"/><circle cx="558.4" cy="359.8" r="2.75"/><circle cx="559.7" cy="356.8" r="2.75"/><circle cx="561.1" cy="358.7" r="2.75"/><circle cx="562.4" cy="356.8" r="2.75"/><circle cx="563.8" cy="362.6" r="2.75"/><circle cx="565.2" cy="360.1" r="2.75"/><circle cx="566.5" cy="359.9" r="2.75"/><circle cx="567.9" cy="356.2" r="2.75"/><circle cx="569.2" cy="353.8" r="2.75"/><circle cx="570.6" cy="356.3" r="2.75"/><circle cx="571.9" cy="356.9" r="2.75"/><circle cx="573.3" cy="355.2" r="2.75"/><circle cx="574.7" cy="357.5" r="2.75"/><circle cx="576.0" cy="352.8" r="2.75"/><circle cx="577.4" cy="361.2" r="2.75"/><circle cx="578.7" cy="353.8" r="2.75"/><circle cx="580.1" cy="354.4" r="2.75"/><circle cx="581.4" cy="355.0" r="2.75"/><circle cx="582.8" cy="353.6" r="2.75"/><circle cx="584.2" cy="358.1" r="2.75"/><circle cx="585.5" cy="358.2" r="2.75"/><circle cx="586.9" cy="355.6" r="2.75"/><circle cx="588.2" cy="357.1" r="2.75"/><circle cx="589.6" cy="353.3" r="2.75"/><circle cx="590.9" cy="353.8" r="2.75"/><circle cx="592.3" cy="355.2" r="2.75"/><circle cx="593.7" cy="356.1" r="2.75"/><circle cx="595.0" cy="360.0" r="2.75"/><circle cx="596.4" cy="355.3" r="2.75"/><circle cx="597.7" cy="356.6" r="2.75"/><circle cx="599.1" cy="356.5" r="2.75"/><circle cx="600.4" cy="353.5" r="2.75"/><circle cx="601.8" cy="353.7" r="2.75"/><circle cx="603.2" cy="355.2" r="2.75"/><circle cx="604.5" cy="358.0" r="2.75"/><circle cx="605.9" cy="359.7" r="2.75"/><circle cx="607.2" cy="353.8" r="2.75"/><circle cx="608.6" cy="358.5" r="2.75"/><circle cx="609.9" cy="355.7" r="2.75"/><circle cx="611.3" cy="361.0" r="2.75"/><circle cx="612.7" cy="357.9" r="2.75"/><circle cx="614.0" cy="360.1" r="2.75"/><circle cx="615.4" cy="355.7" r="2.75"/><circle cx="616.7" cy="356.6" r="2.75"/><circle cx="618.1" cy="357.5" r="2.75"/><circle cx="619.5" cy="357.6" r="2.75"/><circle cx="620.8" cy="356.0" r="2.75"/><circle cx="622.2" cy="357.3" r="2.75"/><circle cx="623.5" cy="356.2" r="2.75"/><circle cx="624.9" cy="354.5" r="2.75"/><circle cx="626.2" cy="357.6" r="2.75"/><circle cx="627.6" cy="358.4" r="2.75"/><circle cx="629.0" cy="361.4" r="2.75"/><circle cx="630.3" cy="360.2" r="2.75"/><circle cx="631.7" cy="360.4" r="2.75"/><circle cx="633.0" cy="357.9" r="2.75"/><circle cx="634.4" cy="359.7" r="2.75"/><circle cx="635.7" cy="361.1" r="2.75"/><circle cx="637.1" cy="359.0" r="2.75"/><circle cx="638.5" cy="361.3" r="2.75"/><circle cx="639.8" cy="360.0" r="2.75"/><circle cx="641.2" cy="355.7" r="2.75"/><circle cx="642.5" cy="358.2" r="2.75"/><circle cx="643.9" cy="356.5" r="2.75"/><circle cx="645.2" cy="356.7" r="2.75"/><circle cx="646.6" cy="360.1" r="2.75"/><circle cx="648.0" cy="357.2" r="2.75"/><circle cx="649.3" cy="359.8" r="2.75"/><circle cx="650.7" cy="361.1" r="2.75"/><circle cx="652.0" cy="359.0" r="2.75"/><circle cx="653.4" cy="362.8" r="2.75"/><circle cx="654.7" cy="362.0" r="2.75"/><circle cx="656.1" cy="360.1" r="2.75"/><circle cx="657.5" cy="359.7" r="2.75"/><circle cx="658.8" cy="358.1" r="2.75"/><circle cx="660.2" cy="357.4" r="2.75"/><circle cx="661.5" cy="361.7" r="2.75"/><circle cx="662.9" cy="358.5" r="2.75"/><circle cx="664.3" cy="358.1" r="2.75"/><circle cx="665.6" cy="363.3" r="2.75"/><circle cx="667.0" cy="358.6" r="2.75"/><circle cx="668.3" cy="358.3" r="2.75"/><circle cx="669.7" cy="364.7" r="2.75"/><circle cx="671.0" cy="363.2" r="2.75"/><circle cx="672.4" cy="360.9" r="2.75"/><circle cx="673.8" cy="358.3" r="2.75"/><circle cx="675.1" cy="360.5" r="2.75"/><circle cx="676.5" cy="363.1" r="2.75"/><circle cx="677.8" cy="357.9" r="2.75"/><circle cx="679.2" cy="359.0" r="2.75"/><circle cx="680.5" cy="360.8" r="2.75"/><circle cx="681.9" cy="360.1" r="2.75"/></g><g fill="#dc5027" stroke="#c44a2a" stroke-width="0.5"><circle cx="493.2" cy="358.3" r="2.75"/><circle cx="494.6" cy="358.1" r="2.75"/><circle cx="495.9" cy="356.9" r="2.75"/><circle cx="497.3" cy="354.8" r="2.75"/><circle cx="498.6" cy="359.3" r="2.75"/><circle cx="500.0" cy="357.1" r="2.75"/><circle cx="501.3" cy="364.2" r="2.75"/><circle cx="502.7" cy="360.1" r="2.75"/><circle cx="504.1" cy="357.7" r="2.75"/><circle cx="505.4" cy="357.2" r="2.75"/><circle cx="506.8" cy="356.3" r="2.75"/><circle cx="508.1" cy="354.6" r="2.75"/><circle cx="509.5" cy="357.2" r="2.75"/><circle cx="510.8" cy="353.2" r="2.75"/><circle cx="512.2" cy="358.0" r="2.75"/><circle cx="513.6" cy="366.5" r="2.75"/><circle cx="514.9" cy="353.0" r="2.75"/><circle cx="516.3" cy="356.3" r="2.75"/><circle cx="517.6" cy="358.9" r="2.75"/><circle cx="519.0" cy="353.4" r="2.75"/><circle cx="520.4" cy="353.9" r="2.75"/><circle cx="521.7" cy="359.5" r="2.75"/><circle cx="523.1" cy="352.5" r="2.75"/><circle cx="524.4" cy="354.7" r="2.75"/><circle cx="525.8" cy="351.9" r="2.75"/><circle cx="527.1" cy="360.0" r="2.75"/><circle cx="528.5" cy="352.2" r="2.75"/><circle cx="529.9" cy="359.2" r="2.75"/><circle cx="531.2" cy="356.8" r="2.75"/><circle cx="532.6" cy="353.1" r="2.75"/><circle cx="533.9" cy="361.2" r="2.75"/><circle cx="535.3" cy="361.6" r="2.75"/><circle cx="536.6" cy="356.0" r="2.75"/><circle cx="538.0" cy="356.0" r="2.75"/><circle cx="539.4" cy="355.8" r="2.75"/><circle cx="540.7" cy="358.1" r="2.75"/><circle cx="542.1" cy="357.5" r="2.75"/><circle cx="543.4" cy="354.5" r="2.75"/><circle cx="544.8" cy="355.7" r="2.75"/><circle cx="546.1" cy="349.9" r="2.75"/><circle cx="547.5" cy="352.4" r="2.75"/><circle cx="548.9" cy="351.6" r="2.75"/><circle cx="550.2" cy="358.0" r="2.75"/><circle cx="551.6" cy="359.0" r="2.75"/><circle cx="552.9" cy="358.7" r="2.75"/><circle cx="554.3" cy="357.7" r="2.75"/><circle cx="555.6" cy="352.4" r="2.75"/><circle cx="557.0" cy="352.1" r="2.75"/><circle cx="558.4" cy="352.6" r="2.75"/><circle cx="559.7" cy="350.9" r="2.75"/><circle cx="561.1" cy="351.2" r="2.75"/><circle cx="562.4" cy="344.0" r="2.75"/><circle cx="563.8" cy="352.6" r="2.75"/><circle cx="565.2" cy="353.1" r="2.75"/><circle cx="566.5" cy="354.4" r="2.75"/><circle cx="567.9" cy="348.5" r="2.75"/><circle cx="569.2" cy="353.7" r="2.75"/><circle cx="570.6" cy="349.6" r="2.75"/><circle cx="571.9" cy="346.0" r="2.75"/><circle cx="573.3" cy="348.9" r="2.75"/><circle cx="574.7" cy="348.2" r="2.75"/><circle cx="576.0" cy="347.3" r="2.75"/><circle cx="577.4" cy="344.9" r="2.75"/><circle cx="578.7" cy="340.3" r="2.75"/><circle cx="580.1" cy="334.1" r="2.75"/><circle cx="581.4" cy="332.9" r="2.75"/><circle cx="582.8" cy="336.8" r="2.75"/><circle cx="584.2" cy="323.5" r="2.75"/><circle cx="585.5" cy="318.7" r="2.75"/><circle cx="586.9" cy="319.7" r="2.75"/><circle cx="588.2" cy="308.0" r="2.75"/><circle cx="589.6" cy="296.7" r="2.75"/><circle cx="590.9" cy="291.3" r="2.75"/><circle cx="592.3" cy="278.4" r="2.75"/><circle cx="593.7" cy="261.6" r="2.75"/><circle cx="595.0" cy="263.9" r="2.75"/><circle cx="596.4" cy="246.6" r="2.75"/><circle cx="597.7" cy="247.3" r="2.75"/><circle cx="599.1" cy="239.8" r="2.75"/><circle cx="600.4" cy="243.7" r="2.75"/><circle cx="601.8" cy="253.3" r="2.75"/><circle cx="603.2" cy="246.5" r="2.75"/><circle cx="604.5" cy="265.1" r="2.75"/><circle cx="605.9" cy="272.4" r="2.75"/><circle cx="607.2" cy="287.2" r="2.75"/><circle cx="608.6" cy="297.2" r="2.75"/><circle cx="609.9" cy="305.1" r="2.75"/><circle cx="611.3" cy="322.0" r="2.75"/><circle cx="612.7" cy="321.3" r="2.75"/><circle cx="614.0" cy="332.9" r="2.75"/><circle cx="615.4" cy="334.6" r="2.75"/><circle cx="616.7" cy="345.9" r="2.75"/><circle cx="618.1" cy="343.2" r="2.75"/><circle cx="619.5" cy="343.7" r="2.75"/><circle cx="620.8" cy="346.5" r="2.75"/><circle cx="622.2" cy="348.0" r="2.75"/><circle cx="623.5" cy="355.2" r="2.75"/><circle cx="624.9" cy="355.1" r="2.75"/><circle cx="626.2" cy="353.2" r="2.75"/><circle cx="627.6" cy="353.6" r="2.75"/><circle cx="629.0" cy="349.7" r="2.75"/><circle cx="630.3" cy="357.9" r="2.75"/><circle cx="631.7" cy="359.5" r="2.75"/><circle cx="633.0" cy="355.8" r="2.75"/><circle cx="634.4" cy="362.3" r="2.75"/><circle cx="635.7" cy="349.9" r="2.75"/><circle cx="637.1" cy="353.1" r="2.75"/><circle cx="638.5" cy="355.1" r="2.75"/><circle cx="639.8" cy="361.6" r="2.75"/><circle cx="641.2" cy="355.7" r="2.75"/><circle cx="642.5" cy="349.4" r="2.75"/><circle cx="643.9" cy="361.2" r="2.75"/><circle cx="645.2" cy="356.6" r="2.75"/><circle cx="646.6" cy="355.5" r="2.75"/><circle cx="648.0" cy="358.0" r="2.75"/><circle cx="649.3" cy="360.0" r="2.75"/><circle cx="650.7" cy="356.1" r="2.75"/><circle cx="652.0" cy="356.9" r="2.75"/><circle cx="653.4" cy="352.7" r="2.75"/><circle cx="654.7" cy="358.1" r="2.75"/><circle cx="656.1" cy="353.0" r="2.75"/><circle cx="657.5" cy="356.7" r="2.75"/><circle cx="658.8" cy="356.7" r="2.75"/><circle cx="660.2" cy="356.1" r="2.75"/><circle cx="661.5" cy="359.1" r="2.75"/><circle cx="662.9" cy="354.9" r="2.75"/><circle cx="664.3" cy="359.8" r="2.75"/><circle cx="665.6" cy="357.6" r="2.75"/><circle cx="667.0" cy="361.9" r="2.75"/><circle cx="668.3" cy="358.8" r="2.75"/><circle cx="669.7" cy="359.3" r="2.75"/><circle cx="671.0" cy="357.0" r="2.75"/><circle cx="672.4" cy="359.9" r="2.75"/><circle cx="673.8" cy="359.7" r="2.75"/><circle cx="675.1" cy="359.3" r="2.75"/><circle cx="676.5" cy="358.9" r="2.75"/><circle cx="677.8" cy="354.8" r="2.75"/><circle cx="679.2" cy="356.4" r="2.75"/><circle cx="680.5" cy="354.1" r="2.75"/><circle cx="681.9" cy="358.0" r="2.75"/></g></g><rect x="492.7" y="202.8" width="189.7" height="164.5" fill="none" stroke="#404040" stroke-width="1"/><line x1="511.7" y1="367.3" x2="511.7" y2="365.3" stroke="#404040" stroke-width="1"/><line x1="511.7" y1="202.8" x2="511.7" y2="204.8" stroke="#404040" stroke-width="1"/><line x1="606.5" y1="367.3" x2="606.5" y2="365.3" stroke="#404040" stroke-width="1"/><line x1="606.5" y1="202.8" x2="606.5" y2="204.8" stroke="#404040" stroke-width="1"/><line x1="492.7" y1="280.7" x2="494.7" y2="280.7" stroke="#404040" stroke-width="1"/><line x1="682.4" y1="280.7" x2="680.4" y2="280.7" stroke="#404040" stroke-width="1"/><text x="518.3" y="378.0" text-anchor="middle" class="t">1.105</text><text x="612.1" y="378.0" text-anchor="middle" class="t">1.11</text><text x="588.7" y="388.0" text-anchor="middle" class="t" style="font-size:9.9px">Energy (eV)</text><text x="487.2" y="213.9" text-anchor="end" class="t">4</text><text x="487.2" y="361.9" text-anchor="end" class="t">0</text><text transform="translate(479.2,283.0) rotate(-90)" text-anchor="middle" class="t">PL (cts/s/nW)</text><text x="466.2" y="204.8" class="lt">h</text><text x="675.2" y="218.1" text-anchor="end" class="an">D/ε<tspan font-size="6" dy="3.4">0</tspan><tspan dy="-3.4"> = 0.022 V/nm</tspan></text><text x="675.2" y="232.6" text-anchor="end" class="an">= -1/2</text><g transform="translate(648.8,232.6)" fill="none" stroke="#262626" stroke-linecap="round"><path d="M-7.3 -6.2 L-4.6 -6.2" stroke-width="0.8"/><path d="M-5.4 -6.1 L-6.6 -0.5" stroke-width="1.3"/><path d="M-6.5 -0.4 Q-3.5 -1.8 -0.8 -6.0" stroke-width="0.9"/></g><clipPath id="cpi"><rect x="492.7" y="394.0" width="189.7" height="170.5"/></clipPath><g clip-path="url(#cpi)"><g fill="#3874bc" stroke="#3468a8" stroke-width="0.5"><circle cx="493.2" cy="560.2" r="2.75"/><circle cx="494.6" cy="551.2" r="2.75"/><circle cx="495.9" cy="545.7" r="2.75"/><circle cx="497.3" cy="550.8" r="2.75"/><circle cx="498.6" cy="547.3" r="2.75"/><circle cx="500.0" cy="545.3" r="2.75"/><circle cx="501.3" cy="548.3" r="2.75"/><circle cx="502.7" cy="546.2" r="2.75"/><circle cx="504.1" cy="547.7" r="2.75"/><circle cx="505.4" cy="542.2" r="2.75"/><circle cx="506.8" cy="544.5" r="2.75"/><circle cx="508.1" cy="551.0" r="2.75"/><circle cx="509.5" cy="554.3" r="2.75"/><circle cx="510.8" cy="547.5" r="2.75"/><circle cx="512.2" cy="544.5" r="2.75"/><circle cx="513.6" cy="546.4" r="2.75"/><circle cx="514.9" cy="557.8" r="2.75"/><circle cx="516.3" cy="555.0" r="2.75"/><circle cx="517.6" cy="551.2" r="2.75"/><circle cx="519.0" cy="551.0" r="2.75"/><circle cx="520.4" cy="552.0" r="2.75"/><circle cx="521.7" cy="548.5" r="2.75"/><circle cx="523.1" cy="567.3" r="2.75"/><circle cx="524.4" cy="547.9" r="2.75"/><circle cx="525.8" cy="542.5" r="2.75"/><circle cx="527.1" cy="551.9" r="2.75"/><circle cx="528.5" cy="551.4" r="2.75"/><circle cx="529.9" cy="547.7" r="2.75"/><circle cx="531.2" cy="554.4" r="2.75"/><circle cx="532.6" cy="543.6" r="2.75"/><circle cx="533.9" cy="554.4" r="2.75"/><circle cx="535.3" cy="542.9" r="2.75"/><circle cx="536.6" cy="542.1" r="2.75"/><circle cx="538.0" cy="552.6" r="2.75"/><circle cx="539.4" cy="552.1" r="2.75"/><circle cx="540.7" cy="548.9" r="2.75"/><circle cx="542.1" cy="544.8" r="2.75"/><circle cx="543.4" cy="544.0" r="2.75"/><circle cx="544.8" cy="542.0" r="2.75"/><circle cx="546.1" cy="558.6" r="2.75"/><circle cx="547.5" cy="551.9" r="2.75"/><circle cx="548.9" cy="548.5" r="2.75"/><circle cx="550.2" cy="539.7" r="2.75"/><circle cx="551.6" cy="543.9" r="2.75"/><circle cx="552.9" cy="547.5" r="2.75"/><circle cx="554.3" cy="543.6" r="2.75"/><circle cx="555.6" cy="547.5" r="2.75"/><circle cx="557.0" cy="553.0" r="2.75"/><circle cx="558.4" cy="543.3" r="2.75"/><circle cx="559.7" cy="551.3" r="2.75"/><circle cx="561.1" cy="555.1" r="2.75"/><circle cx="562.4" cy="558.0" r="2.75"/><circle cx="563.8" cy="546.1" r="2.75"/><circle cx="565.2" cy="544.0" r="2.75"/><circle cx="566.5" cy="540.7" r="2.75"/><circle cx="567.9" cy="553.4" r="2.75"/><circle cx="569.2" cy="550.2" r="2.75"/><circle cx="570.6" cy="545.5" r="2.75"/><circle cx="571.9" cy="544.5" r="2.75"/><circle cx="573.3" cy="545.8" r="2.75"/><circle cx="574.7" cy="547.9" r="2.75"/><circle cx="576.0" cy="554.8" r="2.75"/><circle cx="577.4" cy="546.8" r="2.75"/><circle cx="578.7" cy="544.2" r="2.75"/><circle cx="580.1" cy="546.4" r="2.75"/><circle cx="581.4" cy="541.2" r="2.75"/><circle cx="582.8" cy="543.6" r="2.75"/><circle cx="584.2" cy="544.7" r="2.75"/><circle cx="585.5" cy="543.0" r="2.75"/><circle cx="586.9" cy="543.2" r="2.75"/><circle cx="588.2" cy="551.5" r="2.75"/><circle cx="589.6" cy="545.8" r="2.75"/><circle cx="590.9" cy="540.9" r="2.75"/><circle cx="592.3" cy="553.1" r="2.75"/><circle cx="593.7" cy="529.5" r="2.75"/><circle cx="595.0" cy="536.9" r="2.75"/><circle cx="596.4" cy="542.9" r="2.75"/><circle cx="597.7" cy="537.7" r="2.75"/><circle cx="599.1" cy="533.0" r="2.75"/><circle cx="600.4" cy="527.3" r="2.75"/><circle cx="601.8" cy="536.2" r="2.75"/><circle cx="603.2" cy="515.4" r="2.75"/><circle cx="604.5" cy="521.0" r="2.75"/><circle cx="605.9" cy="517.7" r="2.75"/><circle cx="607.2" cy="509.1" r="2.75"/><circle cx="608.6" cy="508.9" r="2.75"/><circle cx="609.9" cy="514.7" r="2.75"/><circle cx="611.3" cy="506.0" r="2.75"/><circle cx="612.7" cy="507.5" r="2.75"/><circle cx="614.0" cy="504.4" r="2.75"/><circle cx="615.4" cy="505.9" r="2.75"/><circle cx="616.7" cy="506.2" r="2.75"/><circle cx="618.1" cy="524.9" r="2.75"/><circle cx="619.5" cy="524.5" r="2.75"/><circle cx="620.8" cy="526.9" r="2.75"/><circle cx="622.2" cy="528.4" r="2.75"/><circle cx="623.5" cy="531.6" r="2.75"/><circle cx="624.9" cy="533.0" r="2.75"/><circle cx="626.2" cy="538.7" r="2.75"/><circle cx="627.6" cy="534.9" r="2.75"/><circle cx="629.0" cy="529.3" r="2.75"/><circle cx="630.3" cy="536.9" r="2.75"/><circle cx="631.7" cy="541.8" r="2.75"/><circle cx="633.0" cy="540.3" r="2.75"/><circle cx="634.4" cy="548.8" r="2.75"/><circle cx="635.7" cy="549.5" r="2.75"/><circle cx="637.1" cy="531.7" r="2.75"/><circle cx="638.5" cy="541.3" r="2.75"/><circle cx="639.8" cy="549.8" r="2.75"/><circle cx="641.2" cy="547.8" r="2.75"/><circle cx="642.5" cy="550.0" r="2.75"/><circle cx="643.9" cy="550.1" r="2.75"/><circle cx="645.2" cy="551.1" r="2.75"/><circle cx="646.6" cy="555.6" r="2.75"/><circle cx="648.0" cy="541.8" r="2.75"/><circle cx="649.3" cy="548.9" r="2.75"/><circle cx="650.7" cy="543.9" r="2.75"/><circle cx="652.0" cy="550.9" r="2.75"/><circle cx="653.4" cy="548.1" r="2.75"/><circle cx="654.7" cy="549.4" r="2.75"/><circle cx="656.1" cy="552.1" r="2.75"/><circle cx="657.5" cy="544.3" r="2.75"/><circle cx="658.8" cy="551.1" r="2.75"/><circle cx="660.2" cy="545.5" r="2.75"/><circle cx="661.5" cy="552.3" r="2.75"/><circle cx="662.9" cy="538.6" r="2.75"/><circle cx="664.3" cy="550.6" r="2.75"/><circle cx="665.6" cy="547.5" r="2.75"/><circle cx="667.0" cy="543.1" r="2.75"/><circle cx="668.3" cy="540.4" r="2.75"/><circle cx="669.7" cy="546.2" r="2.75"/><circle cx="671.0" cy="547.4" r="2.75"/><circle cx="672.4" cy="545.4" r="2.75"/><circle cx="673.8" cy="551.1" r="2.75"/><circle cx="675.1" cy="560.4" r="2.75"/><circle cx="676.5" cy="534.8" r="2.75"/><circle cx="677.8" cy="546.8" r="2.75"/><circle cx="679.2" cy="546.3" r="2.75"/><circle cx="680.5" cy="542.6" r="2.75"/><circle cx="681.9" cy="538.8" r="2.75"/></g><g fill="#dc5027" stroke="#c44a2a" stroke-width="0.5"><circle cx="493.2" cy="547.5" r="2.75"/><circle cx="494.6" cy="558.2" r="2.75"/><circle cx="495.9" cy="553.3" r="2.75"/><circle cx="497.3" cy="551.7" r="2.75"/><circle cx="498.6" cy="541.4" r="2.75"/><circle cx="500.0" cy="549.6" r="2.75"/><circle cx="501.3" cy="541.7" r="2.75"/><circle cx="502.7" cy="548.9" r="2.75"/><circle cx="504.1" cy="557.6" r="2.75"/><circle cx="505.4" cy="546.4" r="2.75"/><circle cx="506.8" cy="553.1" r="2.75"/><circle cx="508.1" cy="544.8" r="2.75"/><circle cx="509.5" cy="548.1" r="2.75"/><circle cx="510.8" cy="550.1" r="2.75"/><circle cx="512.2" cy="547.1" r="2.75"/><circle cx="513.6" cy="551.6" r="2.75"/><circle cx="514.9" cy="551.5" r="2.75"/><circle cx="516.3" cy="549.4" r="2.75"/><circle cx="517.6" cy="550.9" r="2.75"/><circle cx="519.0" cy="547.9" r="2.75"/><circle cx="520.4" cy="546.2" r="2.75"/><circle cx="521.7" cy="547.0" r="2.75"/><circle cx="523.1" cy="555.1" r="2.75"/><circle cx="524.4" cy="551.8" r="2.75"/><circle cx="525.8" cy="551.5" r="2.75"/><circle cx="527.1" cy="549.0" r="2.75"/><circle cx="528.5" cy="551.9" r="2.75"/><circle cx="529.9" cy="543.4" r="2.75"/><circle cx="531.2" cy="544.8" r="2.75"/><circle cx="532.6" cy="546.3" r="2.75"/><circle cx="533.9" cy="544.1" r="2.75"/><circle cx="535.3" cy="546.9" r="2.75"/><circle cx="536.6" cy="549.3" r="2.75"/><circle cx="538.0" cy="550.0" r="2.75"/><circle cx="539.4" cy="542.8" r="2.75"/><circle cx="540.7" cy="554.9" r="2.75"/><circle cx="542.1" cy="540.5" r="2.75"/><circle cx="543.4" cy="547.5" r="2.75"/><circle cx="544.8" cy="548.5" r="2.75"/><circle cx="546.1" cy="544.4" r="2.75"/><circle cx="547.5" cy="550.6" r="2.75"/><circle cx="548.9" cy="548.0" r="2.75"/><circle cx="550.2" cy="549.6" r="2.75"/><circle cx="551.6" cy="542.5" r="2.75"/><circle cx="552.9" cy="545.5" r="2.75"/><circle cx="554.3" cy="545.9" r="2.75"/><circle cx="555.6" cy="553.7" r="2.75"/><circle cx="557.0" cy="549.5" r="2.75"/><circle cx="558.4" cy="543.8" r="2.75"/><circle cx="559.7" cy="548.1" r="2.75"/><circle cx="561.1" cy="551.6" r="2.75"/><circle cx="562.4" cy="548.2" r="2.75"/><circle cx="563.8" cy="540.7" r="2.75"/><circle cx="565.2" cy="538.5" r="2.75"/><circle cx="566.5" cy="539.7" r="2.75"/><circle cx="567.9" cy="549.4" r="2.75"/><circle cx="569.2" cy="541.3" r="2.75"/><circle cx="570.6" cy="544.2" r="2.75"/><circle cx="571.9" cy="536.2" r="2.75"/><circle cx="573.3" cy="542.6" r="2.75"/><circle cx="574.7" cy="545.5" r="2.75"/><circle cx="576.0" cy="545.6" r="2.75"/><circle cx="577.4" cy="545.4" r="2.75"/><circle cx="578.7" cy="537.3" r="2.75"/><circle cx="580.1" cy="540.4" r="2.75"/><circle cx="581.4" cy="530.5" r="2.75"/><circle cx="582.8" cy="538.9" r="2.75"/><circle cx="584.2" cy="538.7" r="2.75"/><circle cx="585.5" cy="531.4" r="2.75"/><circle cx="586.9" cy="537.0" r="2.75"/><circle cx="588.2" cy="545.5" r="2.75"/><circle cx="589.6" cy="526.8" r="2.75"/><circle cx="590.9" cy="527.5" r="2.75"/><circle cx="592.3" cy="526.9" r="2.75"/><circle cx="593.7" cy="527.3" r="2.75"/><circle cx="595.0" cy="522.4" r="2.75"/><circle cx="596.4" cy="511.7" r="2.75"/><circle cx="597.7" cy="527.9" r="2.75"/><circle cx="599.1" cy="507.5" r="2.75"/><circle cx="600.4" cy="518.1" r="2.75"/><circle cx="601.8" cy="501.8" r="2.75"/><circle cx="603.2" cy="510.7" r="2.75"/><circle cx="604.5" cy="497.6" r="2.75"/><circle cx="605.9" cy="487.3" r="2.75"/><circle cx="607.2" cy="485.1" r="2.75"/><circle cx="608.6" cy="478.8" r="2.75"/><circle cx="609.9" cy="450.6" r="2.75"/><circle cx="611.3" cy="441.4" r="2.75"/><circle cx="612.7" cy="440.8" r="2.75"/><circle cx="614.0" cy="464.3" r="2.75"/><circle cx="615.4" cy="450.0" r="2.75"/><circle cx="616.7" cy="473.5" r="2.75"/><circle cx="618.1" cy="483.6" r="2.75"/><circle cx="619.5" cy="480.6" r="2.75"/><circle cx="620.8" cy="497.4" r="2.75"/><circle cx="622.2" cy="491.4" r="2.75"/><circle cx="623.5" cy="498.4" r="2.75"/><circle cx="624.9" cy="505.9" r="2.75"/><circle cx="626.2" cy="512.6" r="2.75"/><circle cx="627.6" cy="521.5" r="2.75"/><circle cx="629.0" cy="517.2" r="2.75"/><circle cx="630.3" cy="536.7" r="2.75"/><circle cx="631.7" cy="531.5" r="2.75"/><circle cx="633.0" cy="525.7" r="2.75"/><circle cx="634.4" cy="548.4" r="2.75"/><circle cx="635.7" cy="538.4" r="2.75"/><circle cx="637.1" cy="533.7" r="2.75"/><circle cx="638.5" cy="537.8" r="2.75"/><circle cx="639.8" cy="542.2" r="2.75"/><circle cx="641.2" cy="545.9" r="2.75"/><circle cx="642.5" cy="543.6" r="2.75"/><circle cx="643.9" cy="534.6" r="2.75"/><circle cx="645.2" cy="544.4" r="2.75"/><circle cx="646.6" cy="534.5" r="2.75"/><circle cx="648.0" cy="543.4" r="2.75"/><circle cx="649.3" cy="544.8" r="2.75"/><circle cx="650.7" cy="545.3" r="2.75"/><circle cx="652.0" cy="549.8" r="2.75"/><circle cx="653.4" cy="544.3" r="2.75"/><circle cx="654.7" cy="546.4" r="2.75"/><circle cx="656.1" cy="542.1" r="2.75"/><circle cx="657.5" cy="542.8" r="2.75"/><circle cx="658.8" cy="541.3" r="2.75"/><circle cx="660.2" cy="551.7" r="2.75"/><circle cx="661.5" cy="538.9" r="2.75"/><circle cx="662.9" cy="544.1" r="2.75"/><circle cx="664.3" cy="544.4" r="2.75"/><circle cx="665.6" cy="538.2" r="2.75"/><circle cx="667.0" cy="542.9" r="2.75"/><circle cx="668.3" cy="546.0" r="2.75"/><circle cx="669.7" cy="543.6" r="2.75"/><circle cx="671.0" cy="547.8" r="2.75"/><circle cx="672.4" cy="540.9" r="2.75"/><circle cx="673.8" cy="538.5" r="2.75"/><circle cx="675.1" cy="548.8" r="2.75"/><circle cx="676.5" cy="555.7" r="2.75"/><circle cx="677.8" cy="538.9" r="2.75"/><circle cx="679.2" cy="540.3" r="2.75"/><circle cx="680.5" cy="546.0" r="2.75"/><circle cx="681.9" cy="551.2" r="2.75"/></g></g><rect x="492.7" y="397.0" width="189.7" height="164.5" fill="none" stroke="#404040" stroke-width="1"/><line x1="511.7" y1="561.5" x2="511.7" y2="559.5" stroke="#404040" stroke-width="1"/><line x1="511.7" y1="397.0" x2="511.7" y2="399.0" stroke="#404040" stroke-width="1"/><line x1="606.5" y1="561.5" x2="606.5" y2="559.5" stroke="#404040" stroke-width="1"/><line x1="606.5" y1="397.0" x2="606.5" y2="399.0" stroke="#404040" stroke-width="1"/><line x1="492.7" y1="471" x2="494.7" y2="471" stroke="#404040" stroke-width="1"/><line x1="682.4" y1="471" x2="680.4" y2="471" stroke="#404040" stroke-width="1"/><text x="518.3" y="572.2" text-anchor="middle" class="t">1.105</text><text x="612.1" y="572.2" text-anchor="middle" class="t">1.11</text><text x="588.7" y="582.2" text-anchor="middle" class="t" style="font-size:9.9px">Energy (eV)</text><text x="487.2" y="407.8" text-anchor="end" class="t">2</text><text x="487.2" y="549.9" text-anchor="end" class="t">0</text><text transform="translate(479.2,478.4) rotate(-90)" text-anchor="middle" class="t">PL (cts/s/nW)</text><text x="467.7" y="399.0" class="lt">i</text><text x="675.2" y="412.3" text-anchor="end" class="an">D/ε<tspan font-size="6" dy="3.4">0</tspan><tspan dy="-3.4"> = 0 V/nm</tspan></text><text x="675.2" y="426.8" text-anchor="end" class="an">= -1/2</text><g transform="translate(648.8,426.8)" fill="none" stroke="#262626" stroke-linecap="round"><path d="M-7.3 -6.2 L-4.6 -6.2" stroke-width="0.8"/><path d="M-5.4 -6.1 L-6.6 -0.5" stroke-width="1.3"/><path d="M-6.5 -0.4 Q-3.5 -1.8 -0.8 -6.0" stroke-width="0.9"/></g></svg>
</body></html>
